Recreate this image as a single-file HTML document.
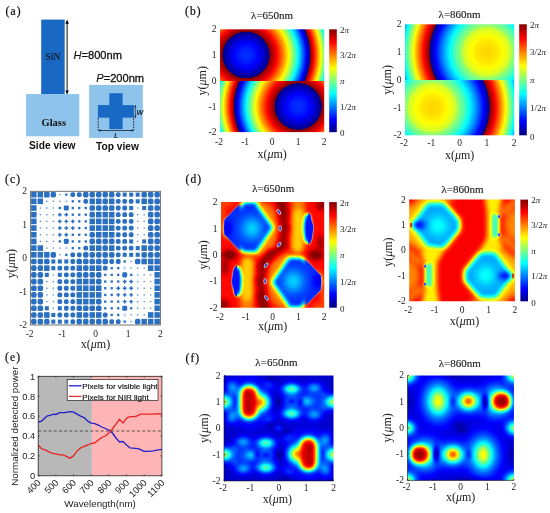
<!DOCTYPE html><html><head><meta charset="utf-8"><title>figure</title><style>html,body{margin:0;padding:0;background:#fff;overflow:hidden}svg{display:block}</style></head><body><svg width="550" height="513" viewBox="0 0 550 513"><defs><radialGradient id="gw"><stop offset="0" stop-color="#fff" stop-opacity="1.000"/><stop offset="0.1" stop-color="#fff" stop-opacity="0.956"/><stop offset="0.2" stop-color="#fff" stop-opacity="0.833"/><stop offset="0.3" stop-color="#fff" stop-opacity="0.663"/><stop offset="0.4" stop-color="#fff" stop-opacity="0.481"/><stop offset="0.5" stop-color="#fff" stop-opacity="0.317"/><stop offset="0.6" stop-color="#fff" stop-opacity="0.189"/><stop offset="0.7" stop-color="#fff" stop-opacity="0.100"/><stop offset="0.8" stop-color="#fff" stop-opacity="0.046"/><stop offset="0.9" stop-color="#fff" stop-opacity="0.015"/><stop offset="1" stop-color="#fff" stop-opacity="0.000"/></radialGradient><radialGradient id="gk"><stop offset="0" stop-color="#000" stop-opacity="1.000"/><stop offset="0.1" stop-color="#000" stop-opacity="0.956"/><stop offset="0.2" stop-color="#000" stop-opacity="0.833"/><stop offset="0.3" stop-color="#000" stop-opacity="0.663"/><stop offset="0.4" stop-color="#000" stop-opacity="0.481"/><stop offset="0.5" stop-color="#000" stop-opacity="0.317"/><stop offset="0.6" stop-color="#000" stop-opacity="0.189"/><stop offset="0.7" stop-color="#000" stop-opacity="0.100"/><stop offset="0.8" stop-color="#000" stop-opacity="0.046"/><stop offset="0.9" stop-color="#000" stop-opacity="0.015"/><stop offset="1" stop-color="#000" stop-opacity="0.000"/></radialGradient><radialGradient id="fw"><stop offset="0" stop-color="#fff" stop-opacity="1.000"/><stop offset="0.1" stop-color="#fff" stop-opacity="0.999"/><stop offset="0.2" stop-color="#fff" stop-opacity="0.997"/><stop offset="0.3" stop-color="#fff" stop-opacity="0.989"/><stop offset="0.4" stop-color="#fff" stop-opacity="0.956"/><stop offset="0.5" stop-color="#fff" stop-opacity="0.843"/><stop offset="0.6" stop-color="#fff" stop-opacity="0.570"/><stop offset="0.7" stop-color="#fff" stop-opacity="0.246"/><stop offset="0.8" stop-color="#fff" stop-opacity="0.074"/><stop offset="0.9" stop-color="#fff" stop-opacity="0.019"/><stop offset="1" stop-color="#fff" stop-opacity="0.000"/></radialGradient><radialGradient id="fk"><stop offset="0" stop-color="#000" stop-opacity="1.000"/><stop offset="0.1" stop-color="#000" stop-opacity="0.999"/><stop offset="0.2" stop-color="#000" stop-opacity="0.997"/><stop offset="0.3" stop-color="#000" stop-opacity="0.989"/><stop offset="0.4" stop-color="#000" stop-opacity="0.956"/><stop offset="0.5" stop-color="#000" stop-opacity="0.843"/><stop offset="0.6" stop-color="#000" stop-opacity="0.570"/><stop offset="0.7" stop-color="#000" stop-opacity="0.246"/><stop offset="0.8" stop-color="#000" stop-opacity="0.074"/><stop offset="0.9" stop-color="#000" stop-opacity="0.019"/><stop offset="1" stop-color="#000" stop-opacity="0.000"/></radialGradient><linearGradient id="cb" x1="0" y1="1" x2="0" y2="0"><stop offset="0.0000" stop-color="#000080"/><stop offset="0.0312" stop-color="#00009f"/><stop offset="0.0625" stop-color="#0000bf"/><stop offset="0.0938" stop-color="#0000df"/><stop offset="0.1250" stop-color="#0000ff"/><stop offset="0.1562" stop-color="#0020ff"/><stop offset="0.1875" stop-color="#0040ff"/><stop offset="0.2188" stop-color="#0060ff"/><stop offset="0.2500" stop-color="#0080ff"/><stop offset="0.2812" stop-color="#009fff"/><stop offset="0.3125" stop-color="#00bfff"/><stop offset="0.3438" stop-color="#00dfff"/><stop offset="0.3750" stop-color="#00ffff"/><stop offset="0.4062" stop-color="#20ffdf"/><stop offset="0.4375" stop-color="#40ffbf"/><stop offset="0.4688" stop-color="#60ff9f"/><stop offset="0.5000" stop-color="#80ff80"/><stop offset="0.5312" stop-color="#9fff60"/><stop offset="0.5625" stop-color="#bfff40"/><stop offset="0.5938" stop-color="#dfff20"/><stop offset="0.6250" stop-color="#ffff00"/><stop offset="0.6562" stop-color="#ffdf00"/><stop offset="0.6875" stop-color="#ffbf00"/><stop offset="0.7188" stop-color="#ff9f00"/><stop offset="0.7500" stop-color="#ff8000"/><stop offset="0.7812" stop-color="#ff6000"/><stop offset="0.8125" stop-color="#ff4000"/><stop offset="0.8438" stop-color="#ff2000"/><stop offset="0.8750" stop-color="#ff0000"/><stop offset="0.9062" stop-color="#df0000"/><stop offset="0.9375" stop-color="#bf0000"/><stop offset="0.9688" stop-color="#9f0000"/><stop offset="1.0000" stop-color="#800000"/></linearGradient><radialGradient id="ra0" gradientUnits="userSpaceOnUse" cx="0" cy="0" r="3.25" gradientTransform="translate(246.05 55.02) scale(26.0500 25.7250)"><stop offset="0.0000" stop-color="#002dff"/><stop offset="0.0063" stop-color="#002dff"/><stop offset="0.0125" stop-color="#002dff"/><stop offset="0.0187" stop-color="#002cff"/><stop offset="0.0250" stop-color="#002bff"/><stop offset="0.0312" stop-color="#002bff"/><stop offset="0.0375" stop-color="#002aff"/><stop offset="0.0437" stop-color="#0028ff"/><stop offset="0.0500" stop-color="#0027ff"/><stop offset="0.0563" stop-color="#0026ff"/><stop offset="0.0625" stop-color="#0024ff"/><stop offset="0.0688" stop-color="#0022ff"/><stop offset="0.0750" stop-color="#0020ff"/><stop offset="0.0813" stop-color="#001eff"/><stop offset="0.0875" stop-color="#001bff"/><stop offset="0.0938" stop-color="#0019ff"/><stop offset="0.1000" stop-color="#0016ff"/><stop offset="0.1062" stop-color="#0013ff"/><stop offset="0.1125" stop-color="#0010ff"/><stop offset="0.1187" stop-color="#000dff"/><stop offset="0.1250" stop-color="#0009ff"/><stop offset="0.1313" stop-color="#0005ff"/><stop offset="0.1375" stop-color="#0002ff"/><stop offset="0.1437" stop-color="#0000fd"/><stop offset="0.1500" stop-color="#0000f8"/><stop offset="0.1562" stop-color="#0000f4"/><stop offset="0.1625" stop-color="#0000ef"/><stop offset="0.1688" stop-color="#0000eb"/><stop offset="0.1750" stop-color="#0000e6"/><stop offset="0.1812" stop-color="#0000e1"/><stop offset="0.1875" stop-color="#0000dc"/><stop offset="0.1938" stop-color="#0000d6"/><stop offset="0.2000" stop-color="#0000d1"/><stop offset="0.2062" stop-color="#0000cb"/><stop offset="0.2125" stop-color="#0000c5"/><stop offset="0.2188" stop-color="#0000bf"/><stop offset="0.2250" stop-color="#0000b9"/><stop offset="0.2313" stop-color="#0000b2"/><stop offset="0.2375" stop-color="#0000ab"/><stop offset="0.2437" stop-color="#0000a5"/><stop offset="0.2500" stop-color="#00009e"/><stop offset="0.2562" stop-color="#000097"/><stop offset="0.2625" stop-color="#00008f"/><stop offset="0.2687" stop-color="#000088"/><stop offset="0.2750" stop-color="#000080"/><stop offset="0.2812" stop-color="#860000"/><stop offset="0.2875" stop-color="#8e0000"/><stop offset="0.2938" stop-color="#960000"/><stop offset="0.3000" stop-color="#9f0000"/><stop offset="0.3063" stop-color="#a70000"/><stop offset="0.3125" stop-color="#b00000"/><stop offset="0.3187" stop-color="#b80000"/><stop offset="0.3250" stop-color="#c10000"/><stop offset="0.3312" stop-color="#ca0000"/><stop offset="0.3375" stop-color="#d40000"/><stop offset="0.3438" stop-color="#dd0000"/><stop offset="0.3500" stop-color="#e60000"/><stop offset="0.3563" stop-color="#f00000"/><stop offset="0.3625" stop-color="#fa0000"/><stop offset="0.3688" stop-color="#ff0500"/><stop offset="0.3750" stop-color="#ff0f00"/><stop offset="0.3812" stop-color="#ff1900"/><stop offset="0.3875" stop-color="#ff2400"/><stop offset="0.3937" stop-color="#ff2e00"/><stop offset="0.4000" stop-color="#ff3900"/><stop offset="0.4062" stop-color="#ff4400"/><stop offset="0.4125" stop-color="#ff4f00"/><stop offset="0.4188" stop-color="#ff5a00"/><stop offset="0.4250" stop-color="#ff6600"/><stop offset="0.4313" stop-color="#ff7100"/><stop offset="0.4375" stop-color="#ff7d00"/><stop offset="0.4437" stop-color="#ff8900"/><stop offset="0.4500" stop-color="#ff9500"/><stop offset="0.4562" stop-color="#ffa100"/><stop offset="0.4625" stop-color="#ffad00"/><stop offset="0.4688" stop-color="#ffb900"/><stop offset="0.4750" stop-color="#ffc600"/><stop offset="0.4813" stop-color="#ffd200"/><stop offset="0.4875" stop-color="#ffdf00"/><stop offset="0.4938" stop-color="#ffec00"/><stop offset="0.5000" stop-color="#fff900"/><stop offset="0.5062" stop-color="#f8ff07"/><stop offset="0.5125" stop-color="#ebff14"/><stop offset="0.5188" stop-color="#ddff22"/><stop offset="0.5250" stop-color="#cfff30"/><stop offset="0.5312" stop-color="#c2ff3d"/><stop offset="0.5375" stop-color="#b4ff4b"/><stop offset="0.5437" stop-color="#a6ff59"/><stop offset="0.5500" stop-color="#98ff67"/><stop offset="0.5563" stop-color="#8aff75"/><stop offset="0.5625" stop-color="#7bff84"/><stop offset="0.5687" stop-color="#6dff92"/><stop offset="0.5750" stop-color="#5effa1"/><stop offset="0.5813" stop-color="#4fffb0"/><stop offset="0.5875" stop-color="#40ffbf"/><stop offset="0.5938" stop-color="#31ffce"/><stop offset="0.6000" stop-color="#22ffdd"/><stop offset="0.6062" stop-color="#13ffec"/><stop offset="0.6125" stop-color="#04fffb"/><stop offset="0.6188" stop-color="#00f3ff"/><stop offset="0.6250" stop-color="#00e4ff"/><stop offset="0.6312" stop-color="#00d4ff"/><stop offset="0.6375" stop-color="#00c4ff"/><stop offset="0.6438" stop-color="#00b4ff"/><stop offset="0.6500" stop-color="#00a4ff"/><stop offset="0.6562" stop-color="#0094ff"/><stop offset="0.6625" stop-color="#0084ff"/><stop offset="0.6687" stop-color="#0073ff"/><stop offset="0.6750" stop-color="#0063ff"/><stop offset="0.6813" stop-color="#0052ff"/><stop offset="0.6875" stop-color="#0041ff"/><stop offset="0.6937" stop-color="#0030ff"/><stop offset="0.7000" stop-color="#001fff"/><stop offset="0.7063" stop-color="#000eff"/><stop offset="0.7125" stop-color="#0000fc"/><stop offset="0.7188" stop-color="#0000eb"/><stop offset="0.7250" stop-color="#0000d9"/><stop offset="0.7312" stop-color="#0000c8"/><stop offset="0.7375" stop-color="#0000b6"/><stop offset="0.7438" stop-color="#0000a5"/><stop offset="0.7500" stop-color="#000093"/><stop offset="0.7562" stop-color="#000081"/><stop offset="0.7625" stop-color="#900000"/><stop offset="0.7688" stop-color="#a20000"/><stop offset="0.7750" stop-color="#b50000"/><stop offset="0.7812" stop-color="#c70000"/><stop offset="0.7875" stop-color="#d90000"/><stop offset="0.7937" stop-color="#ec0000"/><stop offset="0.8000" stop-color="#fe0000"/><stop offset="0.8063" stop-color="#ff1200"/><stop offset="0.8125" stop-color="#ff2500"/><stop offset="0.8187" stop-color="#ff3800"/><stop offset="0.8250" stop-color="#ff4b00"/><stop offset="0.8313" stop-color="#ff5e00"/><stop offset="0.8375" stop-color="#ff7100"/><stop offset="0.8438" stop-color="#ff8400"/><stop offset="0.8500" stop-color="#ff9800"/><stop offset="0.8562" stop-color="#ffab00"/><stop offset="0.8625" stop-color="#ffbf00"/><stop offset="0.8688" stop-color="#ffd200"/><stop offset="0.8750" stop-color="#ffe600"/><stop offset="0.8812" stop-color="#fffa00"/><stop offset="0.8875" stop-color="#f0ff0f"/><stop offset="0.8938" stop-color="#dcff23"/><stop offset="0.9000" stop-color="#c8ff37"/><stop offset="0.9062" stop-color="#b4ff4b"/><stop offset="0.9125" stop-color="#a0ff5f"/><stop offset="0.9187" stop-color="#8cff73"/><stop offset="0.9250" stop-color="#77ff88"/><stop offset="0.9313" stop-color="#63ff9c"/><stop offset="0.9375" stop-color="#4effb1"/><stop offset="0.9437" stop-color="#3affc5"/><stop offset="0.9500" stop-color="#25ffda"/><stop offset="0.9563" stop-color="#10ffef"/><stop offset="0.9625" stop-color="#00faff"/><stop offset="0.9688" stop-color="#00e5ff"/><stop offset="0.9750" stop-color="#00d0ff"/><stop offset="0.9812" stop-color="#00bbff"/><stop offset="0.9875" stop-color="#00a6ff"/><stop offset="0.9938" stop-color="#0091ff"/><stop offset="1.0000" stop-color="#007bff"/></radialGradient><radialGradient id="ra1" gradientUnits="userSpaceOnUse" cx="0" cy="0" r="3.25" gradientTransform="translate(298.15 106.47) scale(26.0500 25.7250)"><stop offset="0.0000" stop-color="#002dff"/><stop offset="0.0063" stop-color="#002dff"/><stop offset="0.0125" stop-color="#002dff"/><stop offset="0.0187" stop-color="#002cff"/><stop offset="0.0250" stop-color="#002bff"/><stop offset="0.0312" stop-color="#002bff"/><stop offset="0.0375" stop-color="#002aff"/><stop offset="0.0437" stop-color="#0028ff"/><stop offset="0.0500" stop-color="#0027ff"/><stop offset="0.0563" stop-color="#0026ff"/><stop offset="0.0625" stop-color="#0024ff"/><stop offset="0.0688" stop-color="#0022ff"/><stop offset="0.0750" stop-color="#0020ff"/><stop offset="0.0813" stop-color="#001eff"/><stop offset="0.0875" stop-color="#001bff"/><stop offset="0.0938" stop-color="#0019ff"/><stop offset="0.1000" stop-color="#0016ff"/><stop offset="0.1062" stop-color="#0013ff"/><stop offset="0.1125" stop-color="#0010ff"/><stop offset="0.1187" stop-color="#000dff"/><stop offset="0.1250" stop-color="#0009ff"/><stop offset="0.1313" stop-color="#0005ff"/><stop offset="0.1375" stop-color="#0002ff"/><stop offset="0.1437" stop-color="#0000fd"/><stop offset="0.1500" stop-color="#0000f8"/><stop offset="0.1562" stop-color="#0000f4"/><stop offset="0.1625" stop-color="#0000ef"/><stop offset="0.1688" stop-color="#0000eb"/><stop offset="0.1750" stop-color="#0000e6"/><stop offset="0.1812" stop-color="#0000e1"/><stop offset="0.1875" stop-color="#0000dc"/><stop offset="0.1938" stop-color="#0000d6"/><stop offset="0.2000" stop-color="#0000d1"/><stop offset="0.2062" stop-color="#0000cb"/><stop offset="0.2125" stop-color="#0000c5"/><stop offset="0.2188" stop-color="#0000bf"/><stop offset="0.2250" stop-color="#0000b9"/><stop offset="0.2313" stop-color="#0000b2"/><stop offset="0.2375" stop-color="#0000ab"/><stop offset="0.2437" stop-color="#0000a5"/><stop offset="0.2500" stop-color="#00009e"/><stop offset="0.2562" stop-color="#000097"/><stop offset="0.2625" stop-color="#00008f"/><stop offset="0.2687" stop-color="#000088"/><stop offset="0.2750" stop-color="#000080"/><stop offset="0.2812" stop-color="#860000"/><stop offset="0.2875" stop-color="#8e0000"/><stop offset="0.2938" stop-color="#960000"/><stop offset="0.3000" stop-color="#9f0000"/><stop offset="0.3063" stop-color="#a70000"/><stop offset="0.3125" stop-color="#b00000"/><stop offset="0.3187" stop-color="#b80000"/><stop offset="0.3250" stop-color="#c10000"/><stop offset="0.3312" stop-color="#ca0000"/><stop offset="0.3375" stop-color="#d40000"/><stop offset="0.3438" stop-color="#dd0000"/><stop offset="0.3500" stop-color="#e60000"/><stop offset="0.3563" stop-color="#f00000"/><stop offset="0.3625" stop-color="#fa0000"/><stop offset="0.3688" stop-color="#ff0500"/><stop offset="0.3750" stop-color="#ff0f00"/><stop offset="0.3812" stop-color="#ff1900"/><stop offset="0.3875" stop-color="#ff2400"/><stop offset="0.3937" stop-color="#ff2e00"/><stop offset="0.4000" stop-color="#ff3900"/><stop offset="0.4062" stop-color="#ff4400"/><stop offset="0.4125" stop-color="#ff4f00"/><stop offset="0.4188" stop-color="#ff5a00"/><stop offset="0.4250" stop-color="#ff6600"/><stop offset="0.4313" stop-color="#ff7100"/><stop offset="0.4375" stop-color="#ff7d00"/><stop offset="0.4437" stop-color="#ff8900"/><stop offset="0.4500" stop-color="#ff9500"/><stop offset="0.4562" stop-color="#ffa100"/><stop offset="0.4625" stop-color="#ffad00"/><stop offset="0.4688" stop-color="#ffb900"/><stop offset="0.4750" stop-color="#ffc600"/><stop offset="0.4813" stop-color="#ffd200"/><stop offset="0.4875" stop-color="#ffdf00"/><stop offset="0.4938" stop-color="#ffec00"/><stop offset="0.5000" stop-color="#fff900"/><stop offset="0.5062" stop-color="#f8ff07"/><stop offset="0.5125" stop-color="#ebff14"/><stop offset="0.5188" stop-color="#ddff22"/><stop offset="0.5250" stop-color="#cfff30"/><stop offset="0.5312" stop-color="#c2ff3d"/><stop offset="0.5375" stop-color="#b4ff4b"/><stop offset="0.5437" stop-color="#a6ff59"/><stop offset="0.5500" stop-color="#98ff67"/><stop offset="0.5563" stop-color="#8aff75"/><stop offset="0.5625" stop-color="#7bff84"/><stop offset="0.5687" stop-color="#6dff92"/><stop offset="0.5750" stop-color="#5effa1"/><stop offset="0.5813" stop-color="#4fffb0"/><stop offset="0.5875" stop-color="#40ffbf"/><stop offset="0.5938" stop-color="#31ffce"/><stop offset="0.6000" stop-color="#22ffdd"/><stop offset="0.6062" stop-color="#13ffec"/><stop offset="0.6125" stop-color="#04fffb"/><stop offset="0.6188" stop-color="#00f3ff"/><stop offset="0.6250" stop-color="#00e4ff"/><stop offset="0.6312" stop-color="#00d4ff"/><stop offset="0.6375" stop-color="#00c4ff"/><stop offset="0.6438" stop-color="#00b4ff"/><stop offset="0.6500" stop-color="#00a4ff"/><stop offset="0.6562" stop-color="#0094ff"/><stop offset="0.6625" stop-color="#0084ff"/><stop offset="0.6687" stop-color="#0073ff"/><stop offset="0.6750" stop-color="#0063ff"/><stop offset="0.6813" stop-color="#0052ff"/><stop offset="0.6875" stop-color="#0041ff"/><stop offset="0.6937" stop-color="#0030ff"/><stop offset="0.7000" stop-color="#001fff"/><stop offset="0.7063" stop-color="#000eff"/><stop offset="0.7125" stop-color="#0000fc"/><stop offset="0.7188" stop-color="#0000eb"/><stop offset="0.7250" stop-color="#0000d9"/><stop offset="0.7312" stop-color="#0000c8"/><stop offset="0.7375" stop-color="#0000b6"/><stop offset="0.7438" stop-color="#0000a5"/><stop offset="0.7500" stop-color="#000093"/><stop offset="0.7562" stop-color="#000081"/><stop offset="0.7625" stop-color="#900000"/><stop offset="0.7688" stop-color="#a20000"/><stop offset="0.7750" stop-color="#b50000"/><stop offset="0.7812" stop-color="#c70000"/><stop offset="0.7875" stop-color="#d90000"/><stop offset="0.7937" stop-color="#ec0000"/><stop offset="0.8000" stop-color="#fe0000"/><stop offset="0.8063" stop-color="#ff1200"/><stop offset="0.8125" stop-color="#ff2500"/><stop offset="0.8187" stop-color="#ff3800"/><stop offset="0.8250" stop-color="#ff4b00"/><stop offset="0.8313" stop-color="#ff5e00"/><stop offset="0.8375" stop-color="#ff7100"/><stop offset="0.8438" stop-color="#ff8400"/><stop offset="0.8500" stop-color="#ff9800"/><stop offset="0.8562" stop-color="#ffab00"/><stop offset="0.8625" stop-color="#ffbf00"/><stop offset="0.8688" stop-color="#ffd200"/><stop offset="0.8750" stop-color="#ffe600"/><stop offset="0.8812" stop-color="#fffa00"/><stop offset="0.8875" stop-color="#f0ff0f"/><stop offset="0.8938" stop-color="#dcff23"/><stop offset="0.9000" stop-color="#c8ff37"/><stop offset="0.9062" stop-color="#b4ff4b"/><stop offset="0.9125" stop-color="#a0ff5f"/><stop offset="0.9187" stop-color="#8cff73"/><stop offset="0.9250" stop-color="#77ff88"/><stop offset="0.9313" stop-color="#63ff9c"/><stop offset="0.9375" stop-color="#4effb1"/><stop offset="0.9437" stop-color="#3affc5"/><stop offset="0.9500" stop-color="#25ffda"/><stop offset="0.9563" stop-color="#10ffef"/><stop offset="0.9625" stop-color="#00faff"/><stop offset="0.9688" stop-color="#00e5ff"/><stop offset="0.9750" stop-color="#00d0ff"/><stop offset="0.9812" stop-color="#00bbff"/><stop offset="0.9875" stop-color="#00a6ff"/><stop offset="0.9938" stop-color="#0091ff"/><stop offset="1.0000" stop-color="#007bff"/></radialGradient><radialGradient id="rb0" gradientUnits="userSpaceOnUse" cx="0" cy="0" r="3.25" gradientTransform="translate(486.90 52.05) scale(27.3000 27.7500)"><stop offset="0.0000" stop-color="#ffd600"/><stop offset="0.0063" stop-color="#ffd600"/><stop offset="0.0125" stop-color="#ffd600"/><stop offset="0.0187" stop-color="#ffd700"/><stop offset="0.0250" stop-color="#ffd700"/><stop offset="0.0312" stop-color="#ffd700"/><stop offset="0.0375" stop-color="#ffd800"/><stop offset="0.0437" stop-color="#ffd900"/><stop offset="0.0500" stop-color="#ffd900"/><stop offset="0.0563" stop-color="#ffda00"/><stop offset="0.0625" stop-color="#ffdb00"/><stop offset="0.0688" stop-color="#ffdc00"/><stop offset="0.0750" stop-color="#ffdd00"/><stop offset="0.0813" stop-color="#ffdf00"/><stop offset="0.0875" stop-color="#ffe000"/><stop offset="0.0938" stop-color="#ffe100"/><stop offset="0.1000" stop-color="#ffe300"/><stop offset="0.1062" stop-color="#ffe500"/><stop offset="0.1125" stop-color="#ffe600"/><stop offset="0.1187" stop-color="#ffe800"/><stop offset="0.1250" stop-color="#ffea00"/><stop offset="0.1313" stop-color="#ffec00"/><stop offset="0.1375" stop-color="#ffee00"/><stop offset="0.1437" stop-color="#fff100"/><stop offset="0.1500" stop-color="#fff300"/><stop offset="0.1562" stop-color="#fff500"/><stop offset="0.1625" stop-color="#fff800"/><stop offset="0.1688" stop-color="#fffb00"/><stop offset="0.1750" stop-color="#fffd00"/><stop offset="0.1812" stop-color="#feff01"/><stop offset="0.1875" stop-color="#fbff04"/><stop offset="0.1938" stop-color="#f8ff07"/><stop offset="0.2000" stop-color="#f5ff0a"/><stop offset="0.2062" stop-color="#f1ff0e"/><stop offset="0.2125" stop-color="#eeff11"/><stop offset="0.2188" stop-color="#ebff14"/><stop offset="0.2250" stop-color="#e7ff18"/><stop offset="0.2313" stop-color="#e4ff1b"/><stop offset="0.2375" stop-color="#e0ff1f"/><stop offset="0.2437" stop-color="#dcff23"/><stop offset="0.2500" stop-color="#d8ff27"/><stop offset="0.2562" stop-color="#d4ff2b"/><stop offset="0.2625" stop-color="#d0ff2f"/><stop offset="0.2687" stop-color="#ccff33"/><stop offset="0.2750" stop-color="#bbff44"/><stop offset="0.2812" stop-color="#a0ff5f"/><stop offset="0.2875" stop-color="#9aff65"/><stop offset="0.2938" stop-color="#94ff6b"/><stop offset="0.3000" stop-color="#8eff71"/><stop offset="0.3063" stop-color="#88ff77"/><stop offset="0.3125" stop-color="#81ff7e"/><stop offset="0.3187" stop-color="#7bff84"/><stop offset="0.3250" stop-color="#74ff8b"/><stop offset="0.3312" stop-color="#6dff92"/><stop offset="0.3375" stop-color="#66ff99"/><stop offset="0.3438" stop-color="#5fffa0"/><stop offset="0.3500" stop-color="#58ffa7"/><stop offset="0.3563" stop-color="#50ffaf"/><stop offset="0.3625" stop-color="#49ffb6"/><stop offset="0.3688" stop-color="#41ffbe"/><stop offset="0.3750" stop-color="#3affc5"/><stop offset="0.3812" stop-color="#32ffcd"/><stop offset="0.3875" stop-color="#2affd5"/><stop offset="0.3937" stop-color="#22ffdd"/><stop offset="0.4000" stop-color="#1affe5"/><stop offset="0.4062" stop-color="#12ffed"/><stop offset="0.4125" stop-color="#09fff6"/><stop offset="0.4188" stop-color="#01fffe"/><stop offset="0.4250" stop-color="#00f7ff"/><stop offset="0.4313" stop-color="#00efff"/><stop offset="0.4375" stop-color="#00e6ff"/><stop offset="0.4437" stop-color="#00ddff"/><stop offset="0.4500" stop-color="#00d4ff"/><stop offset="0.4562" stop-color="#00cbff"/><stop offset="0.4625" stop-color="#00c2ff"/><stop offset="0.4688" stop-color="#00b8ff"/><stop offset="0.4750" stop-color="#00afff"/><stop offset="0.4813" stop-color="#00a5ff"/><stop offset="0.4875" stop-color="#009cff"/><stop offset="0.4938" stop-color="#0092ff"/><stop offset="0.5000" stop-color="#0088ff"/><stop offset="0.5062" stop-color="#007eff"/><stop offset="0.5125" stop-color="#0074ff"/><stop offset="0.5188" stop-color="#006aff"/><stop offset="0.5250" stop-color="#005fff"/><stop offset="0.5312" stop-color="#0055ff"/><stop offset="0.5375" stop-color="#004bff"/><stop offset="0.5437" stop-color="#0040ff"/><stop offset="0.5500" stop-color="#0035ff"/><stop offset="0.5563" stop-color="#002bff"/><stop offset="0.5625" stop-color="#0020ff"/><stop offset="0.5687" stop-color="#0015ff"/><stop offset="0.5750" stop-color="#000aff"/><stop offset="0.5813" stop-color="#0000fe"/><stop offset="0.5875" stop-color="#0000f2"/><stop offset="0.5938" stop-color="#0000e7"/><stop offset="0.6000" stop-color="#0000dc"/><stop offset="0.6062" stop-color="#0000d0"/><stop offset="0.6125" stop-color="#0000c5"/><stop offset="0.6188" stop-color="#0000b9"/><stop offset="0.6250" stop-color="#0000ad"/><stop offset="0.6312" stop-color="#0000a1"/><stop offset="0.6375" stop-color="#000095"/><stop offset="0.6438" stop-color="#000089"/><stop offset="0.6500" stop-color="#820000"/><stop offset="0.6562" stop-color="#8e0000"/><stop offset="0.6625" stop-color="#9b0000"/><stop offset="0.6687" stop-color="#a70000"/><stop offset="0.6750" stop-color="#b40000"/><stop offset="0.6813" stop-color="#c00000"/><stop offset="0.6875" stop-color="#cd0000"/><stop offset="0.6937" stop-color="#d90000"/><stop offset="0.7000" stop-color="#e60000"/><stop offset="0.7063" stop-color="#f30000"/><stop offset="0.7125" stop-color="#ff0100"/><stop offset="0.7188" stop-color="#ff0e00"/><stop offset="0.7250" stop-color="#ff1b00"/><stop offset="0.7312" stop-color="#ff2900"/><stop offset="0.7375" stop-color="#ff3600"/><stop offset="0.7438" stop-color="#ff4300"/><stop offset="0.7500" stop-color="#ff5100"/><stop offset="0.7562" stop-color="#ff5e00"/><stop offset="0.7625" stop-color="#ff6c00"/><stop offset="0.7688" stop-color="#ff7a00"/><stop offset="0.7750" stop-color="#ff8700"/><stop offset="0.7812" stop-color="#ff9500"/><stop offset="0.7875" stop-color="#ffa300"/><stop offset="0.7937" stop-color="#ffb100"/><stop offset="0.8000" stop-color="#ffbf00"/><stop offset="0.8063" stop-color="#ffcd00"/><stop offset="0.8125" stop-color="#ffdc00"/><stop offset="0.8187" stop-color="#ffea00"/><stop offset="0.8250" stop-color="#fff800"/><stop offset="0.8313" stop-color="#f7ff08"/><stop offset="0.8375" stop-color="#e9ff16"/><stop offset="0.8438" stop-color="#daff25"/><stop offset="0.8500" stop-color="#ccff33"/><stop offset="0.8562" stop-color="#bdff42"/><stop offset="0.8625" stop-color="#aeff51"/><stop offset="0.8688" stop-color="#9fff60"/><stop offset="0.8750" stop-color="#90ff6f"/><stop offset="0.8812" stop-color="#81ff7e"/><stop offset="0.8875" stop-color="#72ff8d"/><stop offset="0.8938" stop-color="#63ff9c"/><stop offset="0.9000" stop-color="#54ffab"/><stop offset="0.9062" stop-color="#45ffba"/><stop offset="0.9125" stop-color="#36ffc9"/><stop offset="0.9187" stop-color="#26ffd9"/><stop offset="0.9250" stop-color="#17ffe8"/><stop offset="0.9313" stop-color="#07fff8"/><stop offset="0.9375" stop-color="#00f7ff"/><stop offset="0.9437" stop-color="#00e7ff"/><stop offset="0.9500" stop-color="#00d8ff"/><stop offset="0.9563" stop-color="#00c8ff"/><stop offset="0.9625" stop-color="#00b8ff"/><stop offset="0.9688" stop-color="#00a8ff"/><stop offset="0.9750" stop-color="#0098ff"/><stop offset="0.9812" stop-color="#0088ff"/><stop offset="0.9875" stop-color="#0078ff"/><stop offset="0.9938" stop-color="#0068ff"/><stop offset="1.0000" stop-color="#0058ff"/></radialGradient><radialGradient id="rb1" gradientUnits="userSpaceOnUse" cx="0" cy="0" r="3.25" gradientTransform="translate(432.30 107.55) scale(27.3000 27.7500)"><stop offset="0.0000" stop-color="#ffd600"/><stop offset="0.0063" stop-color="#ffd600"/><stop offset="0.0125" stop-color="#ffd600"/><stop offset="0.0187" stop-color="#ffd700"/><stop offset="0.0250" stop-color="#ffd700"/><stop offset="0.0312" stop-color="#ffd700"/><stop offset="0.0375" stop-color="#ffd800"/><stop offset="0.0437" stop-color="#ffd900"/><stop offset="0.0500" stop-color="#ffd900"/><stop offset="0.0563" stop-color="#ffda00"/><stop offset="0.0625" stop-color="#ffdb00"/><stop offset="0.0688" stop-color="#ffdc00"/><stop offset="0.0750" stop-color="#ffdd00"/><stop offset="0.0813" stop-color="#ffdf00"/><stop offset="0.0875" stop-color="#ffe000"/><stop offset="0.0938" stop-color="#ffe100"/><stop offset="0.1000" stop-color="#ffe300"/><stop offset="0.1062" stop-color="#ffe500"/><stop offset="0.1125" stop-color="#ffe600"/><stop offset="0.1187" stop-color="#ffe800"/><stop offset="0.1250" stop-color="#ffea00"/><stop offset="0.1313" stop-color="#ffec00"/><stop offset="0.1375" stop-color="#ffee00"/><stop offset="0.1437" stop-color="#fff100"/><stop offset="0.1500" stop-color="#fff300"/><stop offset="0.1562" stop-color="#fff500"/><stop offset="0.1625" stop-color="#fff800"/><stop offset="0.1688" stop-color="#fffb00"/><stop offset="0.1750" stop-color="#fffd00"/><stop offset="0.1812" stop-color="#feff01"/><stop offset="0.1875" stop-color="#fbff04"/><stop offset="0.1938" stop-color="#f8ff07"/><stop offset="0.2000" stop-color="#f5ff0a"/><stop offset="0.2062" stop-color="#f1ff0e"/><stop offset="0.2125" stop-color="#eeff11"/><stop offset="0.2188" stop-color="#ebff14"/><stop offset="0.2250" stop-color="#e7ff18"/><stop offset="0.2313" stop-color="#e4ff1b"/><stop offset="0.2375" stop-color="#e0ff1f"/><stop offset="0.2437" stop-color="#dcff23"/><stop offset="0.2500" stop-color="#d8ff27"/><stop offset="0.2562" stop-color="#d4ff2b"/><stop offset="0.2625" stop-color="#d0ff2f"/><stop offset="0.2687" stop-color="#ccff33"/><stop offset="0.2750" stop-color="#bbff44"/><stop offset="0.2812" stop-color="#a0ff5f"/><stop offset="0.2875" stop-color="#9aff65"/><stop offset="0.2938" stop-color="#94ff6b"/><stop offset="0.3000" stop-color="#8eff71"/><stop offset="0.3063" stop-color="#88ff77"/><stop offset="0.3125" stop-color="#81ff7e"/><stop offset="0.3187" stop-color="#7bff84"/><stop offset="0.3250" stop-color="#74ff8b"/><stop offset="0.3312" stop-color="#6dff92"/><stop offset="0.3375" stop-color="#66ff99"/><stop offset="0.3438" stop-color="#5fffa0"/><stop offset="0.3500" stop-color="#58ffa7"/><stop offset="0.3563" stop-color="#50ffaf"/><stop offset="0.3625" stop-color="#49ffb6"/><stop offset="0.3688" stop-color="#41ffbe"/><stop offset="0.3750" stop-color="#3affc5"/><stop offset="0.3812" stop-color="#32ffcd"/><stop offset="0.3875" stop-color="#2affd5"/><stop offset="0.3937" stop-color="#22ffdd"/><stop offset="0.4000" stop-color="#1affe5"/><stop offset="0.4062" stop-color="#12ffed"/><stop offset="0.4125" stop-color="#09fff6"/><stop offset="0.4188" stop-color="#01fffe"/><stop offset="0.4250" stop-color="#00f7ff"/><stop offset="0.4313" stop-color="#00efff"/><stop offset="0.4375" stop-color="#00e6ff"/><stop offset="0.4437" stop-color="#00ddff"/><stop offset="0.4500" stop-color="#00d4ff"/><stop offset="0.4562" stop-color="#00cbff"/><stop offset="0.4625" stop-color="#00c2ff"/><stop offset="0.4688" stop-color="#00b8ff"/><stop offset="0.4750" stop-color="#00afff"/><stop offset="0.4813" stop-color="#00a5ff"/><stop offset="0.4875" stop-color="#009cff"/><stop offset="0.4938" stop-color="#0092ff"/><stop offset="0.5000" stop-color="#0088ff"/><stop offset="0.5062" stop-color="#007eff"/><stop offset="0.5125" stop-color="#0074ff"/><stop offset="0.5188" stop-color="#006aff"/><stop offset="0.5250" stop-color="#005fff"/><stop offset="0.5312" stop-color="#0055ff"/><stop offset="0.5375" stop-color="#004bff"/><stop offset="0.5437" stop-color="#0040ff"/><stop offset="0.5500" stop-color="#0035ff"/><stop offset="0.5563" stop-color="#002bff"/><stop offset="0.5625" stop-color="#0020ff"/><stop offset="0.5687" stop-color="#0015ff"/><stop offset="0.5750" stop-color="#000aff"/><stop offset="0.5813" stop-color="#0000fe"/><stop offset="0.5875" stop-color="#0000f2"/><stop offset="0.5938" stop-color="#0000e7"/><stop offset="0.6000" stop-color="#0000dc"/><stop offset="0.6062" stop-color="#0000d0"/><stop offset="0.6125" stop-color="#0000c5"/><stop offset="0.6188" stop-color="#0000b9"/><stop offset="0.6250" stop-color="#0000ad"/><stop offset="0.6312" stop-color="#0000a1"/><stop offset="0.6375" stop-color="#000095"/><stop offset="0.6438" stop-color="#000089"/><stop offset="0.6500" stop-color="#820000"/><stop offset="0.6562" stop-color="#8e0000"/><stop offset="0.6625" stop-color="#9b0000"/><stop offset="0.6687" stop-color="#a70000"/><stop offset="0.6750" stop-color="#b40000"/><stop offset="0.6813" stop-color="#c00000"/><stop offset="0.6875" stop-color="#cd0000"/><stop offset="0.6937" stop-color="#d90000"/><stop offset="0.7000" stop-color="#e60000"/><stop offset="0.7063" stop-color="#f30000"/><stop offset="0.7125" stop-color="#ff0100"/><stop offset="0.7188" stop-color="#ff0e00"/><stop offset="0.7250" stop-color="#ff1b00"/><stop offset="0.7312" stop-color="#ff2900"/><stop offset="0.7375" stop-color="#ff3600"/><stop offset="0.7438" stop-color="#ff4300"/><stop offset="0.7500" stop-color="#ff5100"/><stop offset="0.7562" stop-color="#ff5e00"/><stop offset="0.7625" stop-color="#ff6c00"/><stop offset="0.7688" stop-color="#ff7a00"/><stop offset="0.7750" stop-color="#ff8700"/><stop offset="0.7812" stop-color="#ff9500"/><stop offset="0.7875" stop-color="#ffa300"/><stop offset="0.7937" stop-color="#ffb100"/><stop offset="0.8000" stop-color="#ffbf00"/><stop offset="0.8063" stop-color="#ffcd00"/><stop offset="0.8125" stop-color="#ffdc00"/><stop offset="0.8187" stop-color="#ffea00"/><stop offset="0.8250" stop-color="#fff800"/><stop offset="0.8313" stop-color="#f7ff08"/><stop offset="0.8375" stop-color="#e9ff16"/><stop offset="0.8438" stop-color="#daff25"/><stop offset="0.8500" stop-color="#ccff33"/><stop offset="0.8562" stop-color="#bdff42"/><stop offset="0.8625" stop-color="#aeff51"/><stop offset="0.8688" stop-color="#9fff60"/><stop offset="0.8750" stop-color="#90ff6f"/><stop offset="0.8812" stop-color="#81ff7e"/><stop offset="0.8875" stop-color="#72ff8d"/><stop offset="0.8938" stop-color="#63ff9c"/><stop offset="0.9000" stop-color="#54ffab"/><stop offset="0.9062" stop-color="#45ffba"/><stop offset="0.9125" stop-color="#36ffc9"/><stop offset="0.9187" stop-color="#26ffd9"/><stop offset="0.9250" stop-color="#17ffe8"/><stop offset="0.9313" stop-color="#07fff8"/><stop offset="0.9375" stop-color="#00f7ff"/><stop offset="0.9437" stop-color="#00e7ff"/><stop offset="0.9500" stop-color="#00d8ff"/><stop offset="0.9563" stop-color="#00c8ff"/><stop offset="0.9625" stop-color="#00b8ff"/><stop offset="0.9688" stop-color="#00a8ff"/><stop offset="0.9750" stop-color="#0098ff"/><stop offset="0.9812" stop-color="#0088ff"/><stop offset="0.9875" stop-color="#0078ff"/><stop offset="0.9938" stop-color="#0068ff"/><stop offset="1.0000" stop-color="#0058ff"/></radialGradient><filter id="f1b2_2" filterUnits="userSpaceOnUse" x="208" y="359.6" width="141.5" height="137.3"><feGaussianBlur stdDeviation="2.2"/></filter><filter id="f1" filterUnits="userSpaceOnUse" x="208" y="359.6" width="141.5" height="137.3" color-interpolation-filters="sRGB"><feGaussianBlur stdDeviation="0.8"/><feComponentTransfer><feFuncR type="table" tableValues="0.000 0.000 0.000 0.000 0.000 0.000 0.000 0.000 0.000 0.000 0.000 0.000 0.000 0.000 0.000 0.000 0.000 0.000 0.000 0.000 0.000 0.000 0.000 0.000 0.000 0.062 0.125 0.188 0.250 0.312 0.375 0.438 0.500 0.562 0.625 0.688 0.750 0.812 0.875 0.938 1.000 1.000 1.000 1.000 1.000 1.000 1.000 1.000 1.000 1.000 1.000 1.000 1.000 1.000 1.000 1.000 1.000 0.938 0.875 0.812 0.750 0.688 0.625 0.562 0.500"/><feFuncG type="table" tableValues="0.000 0.000 0.000 0.000 0.000 0.000 0.000 0.000 0.000 0.062 0.125 0.188 0.250 0.312 0.375 0.438 0.500 0.562 0.625 0.688 0.750 0.812 0.875 0.938 1.000 1.000 1.000 1.000 1.000 1.000 1.000 1.000 1.000 1.000 1.000 1.000 1.000 1.000 1.000 1.000 1.000 0.938 0.875 0.812 0.750 0.688 0.625 0.562 0.500 0.438 0.375 0.312 0.250 0.188 0.125 0.062 0.000 0.000 0.000 0.000 0.000 0.000 0.000 0.000 0.000"/><feFuncB type="table" tableValues="0.500 0.562 0.625 0.688 0.750 0.812 0.875 0.938 1.000 1.000 1.000 1.000 1.000 1.000 1.000 1.000 1.000 1.000 1.000 1.000 1.000 1.000 1.000 1.000 1.000 0.938 0.875 0.812 0.750 0.688 0.625 0.562 0.500 0.438 0.375 0.312 0.250 0.188 0.125 0.062 0.000 0.000 0.000 0.000 0.000 0.000 0.000 0.000 0.000 0.000 0.000 0.000 0.000 0.000 0.000 0.000 0.000 0.000 0.000 0.000 0.000 0.000 0.000 0.000 0.000"/></feComponentTransfer></filter><clipPath id="f1c"><rect x="224.0" y="375.6" width="109.5" height="105.3"/></clipPath><filter id="f2b2_0" filterUnits="userSpaceOnUse" x="391.5" y="359.4" width="138.4" height="137"><feGaussianBlur stdDeviation="2"/></filter><filter id="f2" filterUnits="userSpaceOnUse" x="391.5" y="359.4" width="138.4" height="137" color-interpolation-filters="sRGB"><feGaussianBlur stdDeviation="0.8"/><feComponentTransfer><feFuncR type="table" tableValues="0.000 0.000 0.000 0.000 0.000 0.000 0.000 0.000 0.000 0.000 0.000 0.000 0.000 0.000 0.000 0.000 0.000 0.000 0.000 0.000 0.000 0.000 0.000 0.000 0.000 0.062 0.125 0.188 0.250 0.312 0.375 0.438 0.500 0.562 0.625 0.688 0.750 0.812 0.875 0.938 1.000 1.000 1.000 1.000 1.000 1.000 1.000 1.000 1.000 1.000 1.000 1.000 1.000 1.000 1.000 1.000 1.000 0.938 0.875 0.812 0.750 0.688 0.625 0.562 0.500"/><feFuncG type="table" tableValues="0.000 0.000 0.000 0.000 0.000 0.000 0.000 0.000 0.000 0.062 0.125 0.188 0.250 0.312 0.375 0.438 0.500 0.562 0.625 0.688 0.750 0.812 0.875 0.938 1.000 1.000 1.000 1.000 1.000 1.000 1.000 1.000 1.000 1.000 1.000 1.000 1.000 1.000 1.000 1.000 1.000 0.938 0.875 0.812 0.750 0.688 0.625 0.562 0.500 0.438 0.375 0.312 0.250 0.188 0.125 0.062 0.000 0.000 0.000 0.000 0.000 0.000 0.000 0.000 0.000"/><feFuncB type="table" tableValues="0.500 0.562 0.625 0.688 0.750 0.812 0.875 0.938 1.000 1.000 1.000 1.000 1.000 1.000 1.000 1.000 1.000 1.000 1.000 1.000 1.000 1.000 1.000 1.000 1.000 0.938 0.875 0.812 0.750 0.688 0.625 0.562 0.500 0.438 0.375 0.312 0.250 0.188 0.125 0.062 0.000 0.000 0.000 0.000 0.000 0.000 0.000 0.000 0.000 0.000 0.000 0.000 0.000 0.000 0.000 0.000 0.000 0.000 0.000 0.000 0.000 0.000 0.000 0.000 0.000"/></feComponentTransfer></filter><clipPath id="f2c"><rect x="407.5" y="375.4" width="106.4" height="105.0"/></clipPath><filter id="d1b2_5" filterUnits="userSpaceOnUse" x="205" y="186.1" width="135.2" height="137.6"><feGaussianBlur stdDeviation="2.5"/></filter><filter id="d1b2_0" filterUnits="userSpaceOnUse" x="205" y="186.1" width="135.2" height="137.6"><feGaussianBlur stdDeviation="2"/></filter><filter id="d1b3_5" filterUnits="userSpaceOnUse" x="205" y="186.1" width="135.2" height="137.6"><feGaussianBlur stdDeviation="3.5"/></filter><filter id="d1b2_3" filterUnits="userSpaceOnUse" x="205" y="186.1" width="135.2" height="137.6"><feGaussianBlur stdDeviation="2.3"/></filter><filter id="d1b1_6" filterUnits="userSpaceOnUse" x="205" y="186.1" width="135.2" height="137.6"><feGaussianBlur stdDeviation="1.6"/></filter><filter id="d1b" filterUnits="userSpaceOnUse" x="205" y="186.1" width="135.2" height="137.6" color-interpolation-filters="sRGB"><feGaussianBlur stdDeviation="1.5"/><feComponentTransfer><feFuncR type="table" tableValues="0.000 0.000 0.000 0.000 0.000 0.000 0.000 0.000 0.000 0.000 0.000 0.000 0.000 0.000 0.000 0.000 0.000 0.000 0.000 0.000 0.000 0.000 0.000 0.000 0.000 0.062 0.125 0.188 0.250 0.312 0.375 0.438 0.500 0.562 0.625 0.688 0.750 0.812 0.875 0.938 1.000 1.000 1.000 1.000 1.000 1.000 1.000 1.000 1.000 1.000 1.000 1.000 1.000 1.000 1.000 1.000 1.000 0.938 0.875 0.812 0.750 0.688 0.625 0.562 0.500"/><feFuncG type="table" tableValues="0.000 0.000 0.000 0.000 0.000 0.000 0.000 0.000 0.000 0.062 0.125 0.188 0.250 0.312 0.375 0.438 0.500 0.562 0.625 0.688 0.750 0.812 0.875 0.938 1.000 1.000 1.000 1.000 1.000 1.000 1.000 1.000 1.000 1.000 1.000 1.000 1.000 1.000 1.000 1.000 1.000 0.938 0.875 0.812 0.750 0.688 0.625 0.562 0.500 0.438 0.375 0.312 0.250 0.188 0.125 0.062 0.000 0.000 0.000 0.000 0.000 0.000 0.000 0.000 0.000"/><feFuncB type="table" tableValues="0.500 0.562 0.625 0.688 0.750 0.812 0.875 0.938 1.000 1.000 1.000 1.000 1.000 1.000 1.000 1.000 1.000 1.000 1.000 1.000 1.000 1.000 1.000 1.000 1.000 0.938 0.875 0.812 0.750 0.688 0.625 0.562 0.500 0.438 0.375 0.312 0.250 0.188 0.125 0.062 0.000 0.000 0.000 0.000 0.000 0.000 0.000 0.000 0.000 0.000 0.000 0.000 0.000 0.000 0.000 0.000 0.000 0.000 0.000 0.000 0.000 0.000 0.000 0.000 0.000"/></feComponentTransfer></filter><clipPath id="d1s"><path d="M223.58 228.50L224.10 220.05L238.54 204.74L259.70 204.74L259.70 250.94L239.06 250.15L224.10 234.31Z"/></clipPath><filter id="d1b2_2" filterUnits="userSpaceOnUse" x="205" y="186.1" width="135.2" height="137.6"><feGaussianBlur stdDeviation="2.2"/></filter><mask id="d1m" maskUnits="userSpaceOnUse" x="205" y="186.1" width="135.2" height="137.6"><g filter="url(#d1b2_2)"><path d="M205.52 186.26L236.48 186.26L239.06 203.42L243.70 211.34L248.09 219.26L249.38 228.50L248.09 237.74L243.70 244.34L239.06 252.26L236.48 270.74L205.52 270.74Z" fill="#ffffff" opacity="1"/></g></mask><filter id="d1" filterUnits="userSpaceOnUse" x="205" y="186.1" width="135.2" height="137.6" color-interpolation-filters="sRGB"><feGaussianBlur stdDeviation="0.6"/><feComponentTransfer><feFuncR type="table" tableValues="0.000 0.000 0.000 0.000 0.000 0.000 0.000 0.000 0.000 0.000 0.000 0.000 0.000 0.000 0.000 0.000 0.000 0.000 0.000 0.000 0.000 0.000 0.000 0.000 0.000 0.062 0.125 0.188 0.250 0.312 0.375 0.438 0.500 0.562 0.625 0.688 0.750 0.812 0.875 0.938 1.000 1.000 1.000 1.000 1.000 1.000 1.000 1.000 1.000 1.000 1.000 1.000 1.000 1.000 1.000 1.000 1.000 0.938 0.875 0.812 0.750 0.688 0.625 0.562 0.500"/><feFuncG type="table" tableValues="0.000 0.000 0.000 0.000 0.000 0.000 0.000 0.000 0.000 0.062 0.125 0.188 0.250 0.312 0.375 0.438 0.500 0.562 0.625 0.688 0.750 0.812 0.875 0.938 1.000 1.000 1.000 1.000 1.000 1.000 1.000 1.000 1.000 1.000 1.000 1.000 1.000 1.000 1.000 1.000 1.000 0.938 0.875 0.812 0.750 0.688 0.625 0.562 0.500 0.438 0.375 0.312 0.250 0.188 0.125 0.062 0.000 0.000 0.000 0.000 0.000 0.000 0.000 0.000 0.000"/><feFuncB type="table" tableValues="0.500 0.562 0.625 0.688 0.750 0.812 0.875 0.938 1.000 1.000 1.000 1.000 1.000 1.000 1.000 1.000 1.000 1.000 1.000 1.000 1.000 1.000 1.000 1.000 1.000 0.938 0.875 0.812 0.750 0.688 0.625 0.562 0.500 0.438 0.375 0.312 0.250 0.188 0.125 0.062 0.000 0.000 0.000 0.000 0.000 0.000 0.000 0.000 0.000 0.000 0.000 0.000 0.000 0.000 0.000 0.000 0.000 0.000 0.000 0.000 0.000 0.000 0.000 0.000 0.000"/></feComponentTransfer></filter><clipPath id="d1c"><rect x="221.0" y="202.1" width="103.2" height="105.6"/></clipPath><filter id="d2b3" filterUnits="userSpaceOnUse" x="393.2" y="183.6" width="137.7" height="133.7"><feGaussianBlur stdDeviation="3"/></filter><filter id="d2b2_4" filterUnits="userSpaceOnUse" x="393.2" y="183.6" width="137.7" height="133.7"><feGaussianBlur stdDeviation="2.4"/></filter><filter id="d2b1_6" filterUnits="userSpaceOnUse" x="393.2" y="183.6" width="137.7" height="133.7"><feGaussianBlur stdDeviation="1.6"/></filter><filter id="d2b3_5" filterUnits="userSpaceOnUse" x="393.2" y="183.6" width="137.7" height="133.7"><feGaussianBlur stdDeviation="3.5"/></filter><filter id="d2" filterUnits="userSpaceOnUse" x="393.2" y="183.6" width="137.7" height="133.7" color-interpolation-filters="sRGB"><feGaussianBlur stdDeviation="0.6"/><feComponentTransfer><feFuncR type="table" tableValues="0.000 0.000 0.000 0.000 0.000 0.000 0.000 0.000 0.000 0.000 0.000 0.000 0.000 0.000 0.000 0.000 0.000 0.000 0.000 0.000 0.000 0.000 0.000 0.000 0.000 0.062 0.125 0.188 0.250 0.312 0.375 0.438 0.500 0.562 0.625 0.688 0.750 0.812 0.875 0.938 1.000 1.000 1.000 1.000 1.000 1.000 1.000 1.000 1.000 1.000 1.000 1.000 1.000 1.000 1.000 1.000 1.000 0.938 0.875 0.812 0.750 0.688 0.625 0.562 0.500"/><feFuncG type="table" tableValues="0.000 0.000 0.000 0.000 0.000 0.000 0.000 0.000 0.000 0.062 0.125 0.188 0.250 0.312 0.375 0.438 0.500 0.562 0.625 0.688 0.750 0.812 0.875 0.938 1.000 1.000 1.000 1.000 1.000 1.000 1.000 1.000 1.000 1.000 1.000 1.000 1.000 1.000 1.000 1.000 1.000 0.938 0.875 0.812 0.750 0.688 0.625 0.562 0.500 0.438 0.375 0.312 0.250 0.188 0.125 0.062 0.000 0.000 0.000 0.000 0.000 0.000 0.000 0.000 0.000"/><feFuncB type="table" tableValues="0.500 0.562 0.625 0.688 0.750 0.812 0.875 0.938 1.000 1.000 1.000 1.000 1.000 1.000 1.000 1.000 1.000 1.000 1.000 1.000 1.000 1.000 1.000 1.000 1.000 0.938 0.875 0.812 0.750 0.688 0.625 0.562 0.500 0.438 0.375 0.312 0.250 0.188 0.125 0.062 0.000 0.000 0.000 0.000 0.000 0.000 0.000 0.000 0.000 0.000 0.000 0.000 0.000 0.000 0.000 0.000 0.000 0.000 0.000 0.000 0.000 0.000 0.000 0.000 0.000"/></feComponentTransfer></filter><clipPath id="d2c"><rect x="409.2" y="199.6" width="105.7" height="101.7"/></clipPath></defs><rect width="550" height="513" fill="#fff"/><text x="5.5" y="14.5" font-size="11.5" text-anchor="start" font-family="Liberation Serif,serif" letter-spacing="1.1" stroke="#111" stroke-width="0.22" fill="#111">(a)</text>
<text x="185.0" y="14.5" font-size="11.5" text-anchor="start" font-family="Liberation Serif,serif" letter-spacing="1.1" stroke="#111" stroke-width="0.22" fill="#111">(b)</text>
<text x="5.0" y="183.0" font-size="11.5" text-anchor="start" font-family="Liberation Serif,serif" letter-spacing="1.1" stroke="#111" stroke-width="0.22" fill="#111">(c)</text>
<text x="185.5" y="183.0" font-size="11.5" text-anchor="start" font-family="Liberation Serif,serif" letter-spacing="1.1" stroke="#111" stroke-width="0.22" fill="#111">(d)</text>
<text x="5.0" y="361.0" font-size="11.5" text-anchor="start" font-family="Liberation Serif,serif" letter-spacing="1.1" stroke="#111" stroke-width="0.22" fill="#111">(e)</text>
<text x="185.5" y="362.0" font-size="11.5" text-anchor="start" font-family="Liberation Serif,serif" letter-spacing="1.1" stroke="#111" stroke-width="0.22" fill="#111">(f)</text>
<rect x="41.2" y="19.6" width="23.5" height="74.6" fill="#1868c4"/>
<rect x="26.1" y="94" width="53.2" height="42.3" fill="#8ec4ec"/>
<path d="M67.1 21V93.5" stroke="#000" stroke-width="0.95"/>
<path d="M67.1 19.8l-1.8 3.9h3.6zM67.1 94.3l-1.8-3.9h3.6z" fill="#000"/>
<text x="53.0" y="60.2" font-size="9.5" text-anchor="middle" font-family="Liberation Serif,serif" font-weight="bold" fill="#123">SiN</text>
<text x="53.8" y="126.0" font-size="10.5" text-anchor="middle" font-family="Liberation Serif,serif" font-weight="bold" fill="#111">Glass</text>
<text x="52.3" y="148.6" font-size="10.2" text-anchor="middle" font-family="Liberation Sans,sans-serif" font-weight="bold" fill="#111">Side view</text>
<text x="73.5" y="58.6" font-size="11.1" text-anchor="start" font-family="Liberation Sans,sans-serif" fill="#111" stroke="#111" stroke-width="0.3"><tspan font-style="italic" stroke-width="0.1">H</tspan>=800nm</text>
<text x="96.3" y="82.3" font-size="11.1" text-anchor="start" font-family="Liberation Sans,sans-serif" fill="#111" stroke="#111" stroke-width="0.3"><tspan font-style="italic" stroke-width="0.1">P</tspan>=200nm</text>
<rect x="89.1" y="84.9" width="53.7" height="53" fill="#8ec4ec"/>
<rect x="109.3" y="93.2" width="13.3" height="35.9" fill="#1868c4"/>
<rect x="97.9" y="105.1" width="36" height="12.6" fill="#1868c4"/>
<path d="M98.2 118V130M133.7 118V130" stroke="#112" stroke-width="0.9" stroke-dasharray="1.7 1.1" fill="none"/>
<path d="M98.5 130.5H133.5" stroke="#123" stroke-width="0.8"/>
<path d="M98 130.5l2.6-1.3v2.6zM134 130.5l-2.6-1.3v2.6z" fill="#123"/>
<path d="M135.3 105.5V117.5" stroke="#123" stroke-width="0.7"/>
<path d="M135.3 105l-1.1 2.2h2.2zM135.3 118l-1.1-2.2h2.2z" fill="#123"/>
<text x="136.4" y="114.8" font-size="7" text-anchor="start" font-family="Liberation Sans,sans-serif" font-style="italic" fill="#112" stroke="#112" stroke-width="0.2">W</text>
<text x="114.3" y="138.2" font-size="7" text-anchor="start" font-family="Liberation Sans,sans-serif" font-style="italic" fill="#112" stroke="#112" stroke-width="0.2">L</text>
<text x="117.5" y="150.3" font-size="10.2" text-anchor="middle" font-family="Liberation Sans,sans-serif" font-weight="bold" fill="#111">Top view</text>
<rect x="220.0" y="29.3" width="104.2" height="51.7" fill="url(#ra0)"/>
<rect x="220.0" y="81.0" width="104.2" height="51.1" fill="url(#ra1)"/>
<rect x="405.0" y="24.3" width="109.2" height="55.8" fill="url(#rb0)"/>
<rect x="405.0" y="80.1" width="109.2" height="55.2" fill="url(#rb1)"/>
<text x="272.1" y="19.3" font-size="11" text-anchor="middle" font-family="Liberation Serif,serif" stroke="#222" stroke-width="0.15" fill="#222">λ=650nm</text>
<text x="219.0" y="144.5" font-size="9.5" text-anchor="middle" font-family="Liberation Serif,serif" fill="#222">-2</text>
<text x="245.1" y="144.5" font-size="9.5" text-anchor="middle" font-family="Liberation Serif,serif" fill="#222">-1</text>
<text x="272.1" y="144.5" font-size="9.5" text-anchor="middle" font-family="Liberation Serif,serif" fill="#222">0</text>
<text x="298.1" y="144.5" font-size="9.5" text-anchor="middle" font-family="Liberation Serif,serif" fill="#222">1</text>
<text x="324.2" y="144.5" font-size="9.5" text-anchor="middle" font-family="Liberation Serif,serif" fill="#222">2</text>
<text x="216.5" y="32.3" font-size="9.5" text-anchor="end" font-family="Liberation Serif,serif" fill="#222">2</text>
<text x="216.5" y="58.0" font-size="9.5" text-anchor="end" font-family="Liberation Serif,serif" fill="#222">1</text>
<text x="216.5" y="83.8" font-size="9.5" text-anchor="end" font-family="Liberation Serif,serif" fill="#222">0</text>
<text x="216.5" y="109.5" font-size="9.5" text-anchor="end" font-family="Liberation Serif,serif" fill="#222">-1</text>
<text x="216.5" y="135.2" font-size="9.5" text-anchor="end" font-family="Liberation Serif,serif" fill="#222">-2</text>
<text x="272.1" y="158.4" font-size="12" text-anchor="middle" font-family="Liberation Serif,serif" fill="#222">x(<tspan font-style="italic">μ</tspan>m)</text>
<text transform="translate(205.5 80.8) rotate(-90)" font-size="12" text-anchor="middle" fill="#222" font-family="Liberation Serif,serif">y(<tspan font-style="italic">μ</tspan>m)</text>
<rect x="329.2" y="29.3" width="7.6" height="102.9" fill="url(#cb)"/>
<text x="340.1" y="32.8" font-size="9" text-anchor="start" font-family="Liberation Serif,serif" fill="#222">2<tspan font-style="italic">π</tspan></text>
<text x="340.1" y="58.2" font-size="9" text-anchor="start" font-family="Liberation Serif,serif" fill="#222">3/2<tspan font-style="italic">π</tspan></text>
<text x="340.1" y="84.0" font-size="9" text-anchor="start" font-family="Liberation Serif,serif" fill="#222"><tspan font-style="italic">π</tspan></text>
<text x="340.1" y="109.7" font-size="9" text-anchor="start" font-family="Liberation Serif,serif" fill="#222">1/2<tspan font-style="italic">π</tspan></text>
<text x="340.1" y="136.4" font-size="9" text-anchor="start" font-family="Liberation Serif,serif" fill="#222">0</text>
<text x="459.6" y="17.5" font-size="11" text-anchor="middle" font-family="Liberation Serif,serif" stroke="#222" stroke-width="0.15" fill="#222">λ=860nm</text>
<text x="404.0" y="146.4" font-size="9.5" text-anchor="middle" font-family="Liberation Serif,serif" fill="#222">-2</text>
<text x="431.3" y="146.4" font-size="9.5" text-anchor="middle" font-family="Liberation Serif,serif" fill="#222">-1</text>
<text x="459.6" y="146.4" font-size="9.5" text-anchor="middle" font-family="Liberation Serif,serif" fill="#222">0</text>
<text x="486.9" y="146.4" font-size="9.5" text-anchor="middle" font-family="Liberation Serif,serif" fill="#222">1</text>
<text x="514.2" y="146.4" font-size="9.5" text-anchor="middle" font-family="Liberation Serif,serif" fill="#222">2</text>
<text x="401.5" y="27.3" font-size="9.5" text-anchor="end" font-family="Liberation Serif,serif" fill="#222">2</text>
<text x="401.5" y="55.1" font-size="9.5" text-anchor="end" font-family="Liberation Serif,serif" fill="#222">1</text>
<text x="401.5" y="82.8" font-size="9.5" text-anchor="end" font-family="Liberation Serif,serif" fill="#222">0</text>
<text x="401.5" y="110.6" font-size="9.5" text-anchor="end" font-family="Liberation Serif,serif" fill="#222">-1</text>
<text x="401.5" y="138.3" font-size="9.5" text-anchor="end" font-family="Liberation Serif,serif" fill="#222">-2</text>
<text x="459.6" y="159.3" font-size="12" text-anchor="middle" font-family="Liberation Serif,serif" fill="#222">x(<tspan font-style="italic">μ</tspan>m)</text>
<text transform="translate(390.5 79.8) rotate(-90)" font-size="12" text-anchor="middle" fill="#222" font-family="Liberation Serif,serif">y(<tspan font-style="italic">μ</tspan>m)</text>
<rect x="519.2" y="24.3" width="7.6" height="111.0" fill="url(#cb)"/>
<text x="530.1" y="27.8" font-size="9" text-anchor="start" font-family="Liberation Serif,serif" fill="#222">2<tspan font-style="italic">π</tspan></text>
<text x="530.1" y="55.3" font-size="9" text-anchor="start" font-family="Liberation Serif,serif" fill="#222">3/2<tspan font-style="italic">π</tspan></text>
<text x="530.1" y="83.0" font-size="9" text-anchor="start" font-family="Liberation Serif,serif" fill="#222"><tspan font-style="italic">π</tspan></text>
<text x="530.1" y="110.8" font-size="9" text-anchor="start" font-family="Liberation Serif,serif" fill="#222">1/2<tspan font-style="italic">π</tspan></text>
<text x="530.1" y="139.5" font-size="9" text-anchor="start" font-family="Liberation Serif,serif" fill="#222">0</text>
<g fill="#2b70c0"><rect x="31.12" y="191.84" width="5.45" height="5.61"/><rect x="37.61" y="191.84" width="5.45" height="5.61"/><rect x="44.10" y="191.84" width="5.45" height="5.61"/><rect x="50.56" y="191.81" width="5.50" height="5.67" rx="1.9"/><rect x="59.16" y="193.99" width="1.30" height="1.30" opacity="0.85"/><rect x="65.14" y="193.46" width="2.30" height="2.37"/><rect x="70.44" y="192.22" width="4.70" height="4.84" rx="1.7"/><rect x="76.93" y="192.22" width="4.70" height="4.84" rx="1.7"/><rect x="83.02" y="191.81" width="5.50" height="5.67" rx="1.9"/><rect x="89.50" y="191.81" width="5.50" height="5.67" rx="1.9"/><rect x="96.00" y="191.81" width="5.50" height="5.67" rx="1.9"/><rect x="102.49" y="191.81" width="5.50" height="5.67" rx="1.9"/><rect x="108.97" y="191.81" width="5.50" height="5.67" rx="1.9"/><rect x="115.87" y="192.22" width="4.70" height="4.84" rx="1.7"/><rect x="122.71" y="192.58" width="4.00" height="4.12"/><rect x="129.19" y="192.58" width="4.00" height="4.12"/><rect x="135.69" y="192.58" width="4.00" height="4.12"/><rect x="141.43" y="191.81" width="5.50" height="5.67" rx="1.9"/><rect x="147.91" y="191.81" width="5.50" height="5.67" rx="1.9"/><rect x="154.41" y="191.81" width="5.50" height="5.67" rx="1.9"/><rect x="31.12" y="198.52" width="5.45" height="5.61"/><rect x="37.61" y="198.52" width="5.45" height="5.61"/><rect x="46.18" y="200.68" width="1.30" height="1.30" opacity="0.85"/><rect x="52.66" y="200.68" width="1.30" height="1.30" opacity="0.85"/><rect x="59.16" y="200.68" width="1.30" height="1.30" opacity="0.85"/><path d="M64.39 201.33h3.8M66.30 199.43v3.8" stroke="#2b70c0" stroke-width="0.5" opacity="0.6"/><rect x="71.63" y="200.14" width="2.30" height="2.37"/><rect x="78.12" y="200.14" width="2.30" height="2.37"/><rect x="83.42" y="198.91" width="4.70" height="4.84" rx="1.7"/><rect x="89.53" y="198.52" width="5.45" height="5.61"/><rect x="96.02" y="198.52" width="5.45" height="5.61"/><rect x="102.49" y="198.49" width="5.50" height="5.67" rx="1.9"/><rect x="109.00" y="198.52" width="5.45" height="5.61"/><rect x="115.87" y="198.91" width="4.70" height="4.84" rx="1.7"/><rect x="122.36" y="198.91" width="4.70" height="4.84" rx="1.7"/><rect x="128.84" y="198.91" width="4.70" height="4.84" rx="1.7"/><rect x="135.69" y="199.27" width="4.00" height="4.12"/><rect x="141.45" y="198.52" width="5.45" height="5.61"/><rect x="147.91" y="198.49" width="5.50" height="5.67" rx="1.9"/><rect x="154.41" y="198.49" width="5.50" height="5.67" rx="1.9"/><rect x="31.12" y="205.21" width="5.45" height="5.61"/><rect x="39.69" y="207.36" width="1.30" height="1.30" opacity="0.85"/><rect x="46.18" y="207.36" width="1.30" height="1.30" opacity="0.85"/><rect x="52.66" y="207.36" width="1.30" height="1.30" opacity="0.85"/><rect x="58.66" y="206.83" width="2.30" height="2.37"/><rect x="63.80" y="205.44" width="5.00" height="5.15" rx="1.4"/><rect x="71.63" y="206.83" width="2.30" height="2.37"/><rect x="78.12" y="206.83" width="2.30" height="2.37"/><rect x="84.61" y="206.83" width="2.30" height="2.37"/><rect x="89.50" y="205.18" width="5.50" height="5.67" rx="1.9"/><rect x="96.00" y="205.18" width="5.50" height="5.67" rx="1.9"/><rect x="102.49" y="205.18" width="5.50" height="5.67" rx="1.9"/><rect x="108.97" y="205.18" width="5.50" height="5.67" rx="1.9"/><rect x="115.87" y="205.59" width="4.70" height="4.84" rx="1.7"/><rect x="122.36" y="205.59" width="4.70" height="4.84" rx="1.7"/><rect x="129.19" y="205.95" width="4.00" height="4.12"/><rect x="137.03" y="207.36" width="1.30" height="1.30" opacity="0.85"/><rect x="142.18" y="205.95" width="4.00" height="4.12"/><rect x="147.91" y="205.18" width="5.50" height="5.67" rx="1.9"/><rect x="154.41" y="205.18" width="5.50" height="5.67" rx="1.9"/><rect x="31.12" y="211.89" width="5.45" height="5.61"/><rect x="39.69" y="214.05" width="1.30" height="1.30" opacity="0.85"/><rect x="46.18" y="214.05" width="1.30" height="1.30" opacity="0.85"/><rect x="52.66" y="214.05" width="1.30" height="1.30" opacity="0.85"/><path d="M59.11 212.80h1.4v1.2h1.2v1.4h-1.2v1.2h-1.4v-1.2h-1.2v-1.4h1.2z"/><path d="M65.59 212.80h1.4v1.2h1.2v1.4h-1.2v1.2h-1.4v-1.2h-1.2v-1.4h1.2z"/><rect x="71.63" y="213.51" width="2.30" height="2.37"/><rect x="78.12" y="213.51" width="2.30" height="2.37"/><rect x="84.61" y="213.51" width="2.30" height="2.37"/><rect x="89.50" y="211.86" width="5.50" height="5.67" rx="1.9"/><rect x="96.02" y="211.89" width="5.45" height="5.61"/><rect x="102.51" y="211.89" width="5.45" height="5.61"/><rect x="109.00" y="211.89" width="5.45" height="5.61"/><rect x="115.87" y="212.28" width="4.70" height="4.84" rx="1.7"/><rect x="122.36" y="212.28" width="4.70" height="4.84" rx="1.7"/><rect x="128.84" y="212.28" width="4.70" height="4.84" rx="1.7"/><rect x="137.03" y="214.05" width="1.30" height="1.30" opacity="0.85"/><rect x="143.53" y="214.05" width="1.30" height="1.30" opacity="0.85"/><rect x="147.91" y="211.86" width="5.50" height="5.67" rx="1.9"/><rect x="154.41" y="211.86" width="5.50" height="5.67" rx="1.9"/><rect x="31.12" y="218.58" width="5.45" height="5.61"/><rect x="39.69" y="220.73" width="1.30" height="1.30" opacity="0.85"/><rect x="46.18" y="220.73" width="1.30" height="1.30" opacity="0.85"/><rect x="52.66" y="220.73" width="1.30" height="1.30" opacity="0.85"/><path d="M59.11 219.48h1.4v1.2h1.2v1.4h-1.2v1.2h-1.4v-1.2h-1.2v-1.4h1.2z"/><path d="M65.59 219.48h1.4v1.2h1.2v1.4h-1.2v1.2h-1.4v-1.2h-1.2v-1.4h1.2z"/><path d="M72.08 219.48h1.4v1.2h1.2v1.4h-1.2v1.2h-1.4v-1.2h-1.2v-1.4h1.2z"/><rect x="78.12" y="220.20" width="2.30" height="2.37"/><rect x="84.61" y="220.20" width="2.30" height="2.37"/><rect x="89.53" y="218.58" width="5.45" height="5.61"/><rect x="96.02" y="218.58" width="5.45" height="5.61"/><rect x="102.51" y="218.58" width="5.45" height="5.61"/><rect x="109.00" y="218.58" width="5.45" height="5.61"/><rect x="115.87" y="218.96" width="4.70" height="4.84" rx="1.7"/><rect x="122.36" y="218.96" width="4.70" height="4.84" rx="1.7"/><rect x="128.84" y="218.96" width="4.70" height="4.84" rx="1.7"/><rect x="137.03" y="220.73" width="1.30" height="1.30" opacity="0.85"/><rect x="143.53" y="220.73" width="1.30" height="1.30" opacity="0.85"/><rect x="147.91" y="218.55" width="5.50" height="5.67" rx="1.9"/><rect x="154.41" y="218.55" width="5.50" height="5.67" rx="1.9"/><rect x="31.12" y="225.26" width="5.45" height="5.61"/><rect x="39.69" y="227.42" width="1.30" height="1.30" opacity="0.85"/><rect x="46.18" y="227.42" width="1.30" height="1.30" opacity="0.85"/><rect x="52.66" y="227.42" width="1.30" height="1.30" opacity="0.85"/><path d="M59.11 226.17h1.4v1.2h1.2v1.4h-1.2v1.2h-1.4v-1.2h-1.2v-1.4h1.2z"/><path d="M65.59 226.17h1.4v1.2h1.2v1.4h-1.2v1.2h-1.4v-1.2h-1.2v-1.4h1.2z"/><path d="M72.08 226.17h1.4v1.2h1.2v1.4h-1.2v1.2h-1.4v-1.2h-1.2v-1.4h1.2z"/><rect x="78.12" y="226.88" width="2.30" height="2.37"/><rect x="84.61" y="226.88" width="2.30" height="2.37"/><rect x="89.53" y="225.26" width="5.45" height="5.61"/><rect x="96.02" y="225.26" width="5.45" height="5.61"/><rect x="102.51" y="225.26" width="5.45" height="5.61"/><rect x="109.00" y="225.26" width="5.45" height="5.61"/><rect x="115.87" y="225.65" width="4.70" height="4.84" rx="1.7"/><rect x="122.36" y="225.65" width="4.70" height="4.84" rx="1.7"/><rect x="128.84" y="225.65" width="4.70" height="4.84" rx="1.7"/><rect x="137.03" y="227.42" width="1.30" height="1.30" opacity="0.85"/><rect x="143.53" y="227.42" width="1.30" height="1.30" opacity="0.85"/><rect x="147.91" y="225.23" width="5.50" height="5.67" rx="1.9"/><rect x="154.41" y="225.23" width="5.50" height="5.67" rx="1.9"/><rect x="31.12" y="231.95" width="5.45" height="5.61"/><rect x="39.69" y="234.10" width="1.30" height="1.30" opacity="0.85"/><rect x="46.18" y="234.10" width="1.30" height="1.30" opacity="0.85"/><rect x="52.66" y="234.10" width="1.30" height="1.30" opacity="0.85"/><path d="M59.11 232.85h1.4v1.2h1.2v1.4h-1.2v1.2h-1.4v-1.2h-1.2v-1.4h1.2z"/><path d="M65.59 232.85h1.4v1.2h1.2v1.4h-1.2v1.2h-1.4v-1.2h-1.2v-1.4h1.2z"/><rect x="71.63" y="233.57" width="2.30" height="2.37"/><rect x="78.12" y="233.57" width="2.30" height="2.37"/><rect x="84.61" y="233.57" width="2.30" height="2.37"/><rect x="89.50" y="231.92" width="5.50" height="5.67" rx="1.9"/><rect x="96.02" y="231.95" width="5.45" height="5.61"/><rect x="102.51" y="231.95" width="5.45" height="5.61"/><rect x="109.00" y="231.95" width="5.45" height="5.61"/><rect x="115.87" y="232.33" width="4.70" height="4.84" rx="1.7"/><rect x="122.36" y="232.33" width="4.70" height="4.84" rx="1.7"/><rect x="128.84" y="232.33" width="4.70" height="4.84" rx="1.7"/><rect x="137.03" y="234.10" width="1.30" height="1.30" opacity="0.85"/><rect x="143.53" y="234.10" width="1.30" height="1.30" opacity="0.85"/><rect x="147.91" y="231.92" width="5.50" height="5.67" rx="1.9"/><rect x="154.41" y="231.92" width="5.50" height="5.67" rx="1.9"/><rect x="31.12" y="238.63" width="5.45" height="5.61"/><rect x="39.69" y="240.79" width="1.30" height="1.30" opacity="0.85"/><rect x="46.18" y="240.79" width="1.30" height="1.30" opacity="0.85"/><rect x="52.66" y="240.79" width="1.30" height="1.30" opacity="0.85"/><rect x="58.66" y="240.25" width="2.30" height="2.37"/><rect x="63.80" y="238.86" width="5.00" height="5.15" rx="1.4"/><rect x="71.63" y="240.25" width="2.30" height="2.37"/><rect x="78.12" y="240.25" width="2.30" height="2.37"/><rect x="84.61" y="240.25" width="2.30" height="2.37"/><rect x="89.50" y="238.60" width="5.50" height="5.67" rx="1.9"/><rect x="96.00" y="238.60" width="5.50" height="5.67" rx="1.9"/><rect x="102.49" y="238.60" width="5.50" height="5.67" rx="1.9"/><rect x="108.97" y="238.60" width="5.50" height="5.67" rx="1.9"/><rect x="115.87" y="239.02" width="4.70" height="4.84" rx="1.7"/><rect x="122.36" y="239.02" width="4.70" height="4.84" rx="1.7"/><rect x="129.19" y="239.38" width="4.00" height="4.12"/><rect x="137.03" y="240.79" width="1.30" height="1.30" opacity="0.85"/><rect x="142.18" y="239.38" width="4.00" height="4.12"/><rect x="147.91" y="238.60" width="5.50" height="5.67" rx="1.9"/><rect x="154.41" y="238.60" width="5.50" height="5.67" rx="1.9"/><rect x="31.12" y="245.32" width="5.45" height="5.61"/><rect x="37.61" y="245.32" width="5.45" height="5.61"/><rect x="46.18" y="247.47" width="1.30" height="1.30" opacity="0.85"/><rect x="52.66" y="247.47" width="1.30" height="1.30" opacity="0.85"/><rect x="59.16" y="247.47" width="1.30" height="1.30" opacity="0.85"/><path d="M64.39 248.12h3.8M66.30 246.22v3.8" stroke="#2b70c0" stroke-width="0.5" opacity="0.6"/><rect x="71.63" y="246.94" width="2.30" height="2.37"/><rect x="78.12" y="246.94" width="2.30" height="2.37"/><rect x="83.42" y="245.70" width="4.70" height="4.84" rx="1.7"/><rect x="89.53" y="245.32" width="5.45" height="5.61"/><rect x="96.02" y="245.32" width="5.45" height="5.61"/><rect x="102.49" y="245.29" width="5.50" height="5.67" rx="1.9"/><rect x="109.00" y="245.32" width="5.45" height="5.61"/><rect x="115.87" y="245.70" width="4.70" height="4.84" rx="1.7"/><rect x="122.36" y="245.70" width="4.70" height="4.84" rx="1.7"/><rect x="128.84" y="245.70" width="4.70" height="4.84" rx="1.7"/><rect x="135.69" y="246.06" width="4.00" height="4.12"/><rect x="141.45" y="245.32" width="5.45" height="5.61"/><rect x="147.91" y="245.29" width="5.50" height="5.67" rx="1.9"/><rect x="154.41" y="245.29" width="5.50" height="5.67" rx="1.9"/><rect x="31.12" y="252.00" width="5.45" height="5.61"/><rect x="37.61" y="252.00" width="5.45" height="5.61"/><rect x="44.10" y="252.00" width="5.45" height="5.61"/><rect x="50.56" y="251.97" width="5.50" height="5.67" rx="1.9"/><rect x="59.16" y="254.16" width="1.30" height="1.30" opacity="0.85"/><rect x="65.14" y="253.62" width="2.30" height="2.37"/><rect x="70.44" y="252.39" width="4.70" height="4.84" rx="1.7"/><rect x="76.93" y="252.39" width="4.70" height="4.84" rx="1.7"/><rect x="83.02" y="251.97" width="5.50" height="5.67" rx="1.9"/><rect x="89.50" y="251.97" width="5.50" height="5.67" rx="1.9"/><rect x="96.00" y="251.97" width="5.50" height="5.67" rx="1.9"/><rect x="102.49" y="251.97" width="5.50" height="5.67" rx="1.9"/><rect x="108.97" y="251.97" width="5.50" height="5.67" rx="1.9"/><rect x="115.87" y="252.39" width="4.70" height="4.84" rx="1.7"/><rect x="122.71" y="252.75" width="4.00" height="4.12"/><rect x="129.19" y="252.75" width="4.00" height="4.12"/><rect x="135.69" y="252.75" width="4.00" height="4.12"/><rect x="141.43" y="251.97" width="5.50" height="5.67" rx="1.9"/><rect x="147.91" y="251.97" width="5.50" height="5.67" rx="1.9"/><rect x="154.41" y="251.97" width="5.50" height="5.67" rx="1.9"/><rect x="31.09" y="258.66" width="5.50" height="5.67" rx="1.9"/><rect x="37.59" y="258.66" width="5.50" height="5.67" rx="1.9"/><rect x="44.08" y="258.66" width="5.50" height="5.67" rx="1.9"/><rect x="51.31" y="259.43" width="4.00" height="4.12"/><rect x="57.81" y="259.43" width="4.00" height="4.12"/><rect x="64.30" y="259.43" width="4.00" height="4.12"/><rect x="70.44" y="259.07" width="4.70" height="4.84" rx="1.7"/><rect x="76.53" y="258.66" width="5.50" height="5.67" rx="1.9"/><rect x="83.02" y="258.66" width="5.50" height="5.67" rx="1.9"/><rect x="89.50" y="258.66" width="5.50" height="5.67" rx="1.9"/><rect x="96.00" y="258.66" width="5.50" height="5.67" rx="1.9"/><rect x="102.49" y="258.66" width="5.50" height="5.67" rx="1.9"/><rect x="109.38" y="259.07" width="4.70" height="4.84" rx="1.7"/><rect x="115.87" y="259.07" width="4.70" height="4.84" rx="1.7"/><rect x="123.56" y="260.31" width="2.30" height="2.37"/><rect x="130.54" y="260.84" width="1.30" height="1.30" opacity="0.85"/><rect x="134.94" y="258.66" width="5.50" height="5.67" rx="1.9"/><rect x="141.45" y="258.69" width="5.45" height="5.61"/><rect x="147.94" y="258.69" width="5.45" height="5.61"/><rect x="154.43" y="258.69" width="5.45" height="5.61"/><rect x="31.09" y="265.34" width="5.50" height="5.67" rx="1.9"/><rect x="37.59" y="265.34" width="5.50" height="5.67" rx="1.9"/><rect x="44.10" y="265.37" width="5.45" height="5.61"/><rect x="51.31" y="266.12" width="4.00" height="4.12"/><rect x="57.46" y="265.76" width="4.70" height="4.84" rx="1.7"/><rect x="63.95" y="265.76" width="4.70" height="4.84" rx="1.7"/><rect x="70.44" y="265.76" width="4.70" height="4.84" rx="1.7"/><rect x="76.55" y="265.37" width="5.45" height="5.61"/><rect x="83.02" y="265.34" width="5.50" height="5.67" rx="1.9"/><rect x="89.53" y="265.37" width="5.45" height="5.61"/><rect x="96.02" y="265.37" width="5.45" height="5.61"/><rect x="102.89" y="265.76" width="4.70" height="4.84" rx="1.7"/><rect x="110.57" y="266.99" width="2.30" height="2.37"/><rect x="117.06" y="266.99" width="2.30" height="2.37"/><path d="M122.81 268.18h3.8M124.71 266.28v3.8" stroke="#2b70c0" stroke-width="0.5" opacity="0.6"/><rect x="130.54" y="267.53" width="1.30" height="1.30" opacity="0.85"/><rect x="137.03" y="267.53" width="1.30" height="1.30" opacity="0.85"/><rect x="143.53" y="267.53" width="1.30" height="1.30" opacity="0.85"/><rect x="147.94" y="265.37" width="5.45" height="5.61"/><rect x="154.43" y="265.37" width="5.45" height="5.61"/><rect x="31.09" y="272.03" width="5.50" height="5.67" rx="1.9"/><rect x="37.59" y="272.03" width="5.50" height="5.67" rx="1.9"/><rect x="44.83" y="272.80" width="4.00" height="4.12"/><rect x="52.66" y="274.21" width="1.30" height="1.30" opacity="0.85"/><rect x="57.81" y="272.80" width="4.00" height="4.12"/><rect x="63.95" y="272.44" width="4.70" height="4.84" rx="1.7"/><rect x="70.44" y="272.44" width="4.70" height="4.84" rx="1.7"/><rect x="76.53" y="272.03" width="5.50" height="5.67" rx="1.9"/><rect x="83.02" y="272.03" width="5.50" height="5.67" rx="1.9"/><rect x="89.50" y="272.03" width="5.50" height="5.67" rx="1.9"/><rect x="96.00" y="272.03" width="5.50" height="5.67" rx="1.9"/><rect x="104.09" y="273.68" width="2.30" height="2.37"/><rect x="110.57" y="273.68" width="2.30" height="2.37"/><rect x="117.06" y="273.68" width="2.30" height="2.37"/><rect x="122.21" y="272.29" width="5.00" height="5.15" rx="1.4"/><rect x="130.04" y="273.68" width="2.30" height="2.37"/><rect x="137.03" y="274.21" width="1.30" height="1.30" opacity="0.85"/><rect x="143.53" y="274.21" width="1.30" height="1.30" opacity="0.85"/><rect x="150.01" y="274.21" width="1.30" height="1.30" opacity="0.85"/><rect x="154.43" y="272.06" width="5.45" height="5.61"/><rect x="31.09" y="278.71" width="5.50" height="5.67" rx="1.9"/><rect x="37.59" y="278.71" width="5.50" height="5.67" rx="1.9"/><rect x="46.18" y="280.90" width="1.30" height="1.30" opacity="0.85"/><rect x="52.66" y="280.90" width="1.30" height="1.30" opacity="0.85"/><rect x="57.46" y="279.13" width="4.70" height="4.84" rx="1.7"/><rect x="63.95" y="279.13" width="4.70" height="4.84" rx="1.7"/><rect x="70.44" y="279.13" width="4.70" height="4.84" rx="1.7"/><rect x="76.55" y="278.74" width="5.45" height="5.61"/><rect x="83.04" y="278.74" width="5.45" height="5.61"/><rect x="89.53" y="278.74" width="5.45" height="5.61"/><rect x="96.00" y="278.71" width="5.50" height="5.67" rx="1.9"/><rect x="104.09" y="280.36" width="2.30" height="2.37"/><rect x="110.57" y="280.36" width="2.30" height="2.37"/><rect x="117.06" y="280.36" width="2.30" height="2.37"/><path d="M124.01 279.65h1.4v1.2h1.2v1.4h-1.2v1.2h-1.4v-1.2h-1.2v-1.4h1.2z"/><path d="M130.50 279.65h1.4v1.2h1.2v1.4h-1.2v1.2h-1.4v-1.2h-1.2v-1.4h1.2z"/><rect x="137.03" y="280.90" width="1.30" height="1.30" opacity="0.85"/><rect x="143.53" y="280.90" width="1.30" height="1.30" opacity="0.85"/><rect x="150.01" y="280.90" width="1.30" height="1.30" opacity="0.85"/><rect x="154.43" y="278.74" width="5.45" height="5.61"/><rect x="31.09" y="285.40" width="5.50" height="5.67" rx="1.9"/><rect x="37.59" y="285.40" width="5.50" height="5.67" rx="1.9"/><rect x="46.18" y="287.58" width="1.30" height="1.30" opacity="0.85"/><rect x="52.66" y="287.58" width="1.30" height="1.30" opacity="0.85"/><rect x="57.46" y="285.81" width="4.70" height="4.84" rx="1.7"/><rect x="63.95" y="285.81" width="4.70" height="4.84" rx="1.7"/><rect x="70.44" y="285.81" width="4.70" height="4.84" rx="1.7"/><rect x="76.55" y="285.43" width="5.45" height="5.61"/><rect x="83.04" y="285.43" width="5.45" height="5.61"/><rect x="89.53" y="285.43" width="5.45" height="5.61"/><rect x="96.02" y="285.43" width="5.45" height="5.61"/><rect x="104.09" y="287.05" width="2.30" height="2.37"/><rect x="110.57" y="287.05" width="2.30" height="2.37"/><path d="M117.52 286.33h1.4v1.2h1.2v1.4h-1.2v1.2h-1.4v-1.2h-1.2v-1.4h1.2z"/><path d="M124.01 286.33h1.4v1.2h1.2v1.4h-1.2v1.2h-1.4v-1.2h-1.2v-1.4h1.2z"/><path d="M130.50 286.33h1.4v1.2h1.2v1.4h-1.2v1.2h-1.4v-1.2h-1.2v-1.4h1.2z"/><rect x="137.03" y="287.58" width="1.30" height="1.30" opacity="0.85"/><rect x="143.53" y="287.58" width="1.30" height="1.30" opacity="0.85"/><rect x="150.01" y="287.58" width="1.30" height="1.30" opacity="0.85"/><rect x="154.43" y="285.43" width="5.45" height="5.61"/><rect x="31.09" y="292.08" width="5.50" height="5.67" rx="1.9"/><rect x="37.59" y="292.08" width="5.50" height="5.67" rx="1.9"/><rect x="46.18" y="294.27" width="1.30" height="1.30" opacity="0.85"/><rect x="52.66" y="294.27" width="1.30" height="1.30" opacity="0.85"/><rect x="57.46" y="292.50" width="4.70" height="4.84" rx="1.7"/><rect x="63.95" y="292.50" width="4.70" height="4.84" rx="1.7"/><rect x="70.44" y="292.50" width="4.70" height="4.84" rx="1.7"/><rect x="76.55" y="292.11" width="5.45" height="5.61"/><rect x="83.04" y="292.11" width="5.45" height="5.61"/><rect x="89.53" y="292.11" width="5.45" height="5.61"/><rect x="96.02" y="292.11" width="5.45" height="5.61"/><rect x="104.09" y="293.73" width="2.30" height="2.37"/><rect x="110.57" y="293.73" width="2.30" height="2.37"/><path d="M117.52 293.02h1.4v1.2h1.2v1.4h-1.2v1.2h-1.4v-1.2h-1.2v-1.4h1.2z"/><path d="M124.01 293.02h1.4v1.2h1.2v1.4h-1.2v1.2h-1.4v-1.2h-1.2v-1.4h1.2z"/><path d="M130.50 293.02h1.4v1.2h1.2v1.4h-1.2v1.2h-1.4v-1.2h-1.2v-1.4h1.2z"/><rect x="137.03" y="294.27" width="1.30" height="1.30" opacity="0.85"/><rect x="143.53" y="294.27" width="1.30" height="1.30" opacity="0.85"/><rect x="150.01" y="294.27" width="1.30" height="1.30" opacity="0.85"/><rect x="154.43" y="292.11" width="5.45" height="5.61"/><rect x="31.09" y="298.77" width="5.50" height="5.67" rx="1.9"/><rect x="37.59" y="298.77" width="5.50" height="5.67" rx="1.9"/><rect x="46.18" y="300.95" width="1.30" height="1.30" opacity="0.85"/><rect x="52.66" y="300.95" width="1.30" height="1.30" opacity="0.85"/><rect x="57.46" y="299.18" width="4.70" height="4.84" rx="1.7"/><rect x="63.95" y="299.18" width="4.70" height="4.84" rx="1.7"/><rect x="70.44" y="299.18" width="4.70" height="4.84" rx="1.7"/><rect x="76.55" y="298.80" width="5.45" height="5.61"/><rect x="83.04" y="298.80" width="5.45" height="5.61"/><rect x="89.53" y="298.80" width="5.45" height="5.61"/><rect x="96.00" y="298.77" width="5.50" height="5.67" rx="1.9"/><rect x="104.09" y="300.42" width="2.30" height="2.37"/><rect x="110.57" y="300.42" width="2.30" height="2.37"/><rect x="117.06" y="300.42" width="2.30" height="2.37"/><path d="M124.01 299.70h1.4v1.2h1.2v1.4h-1.2v1.2h-1.4v-1.2h-1.2v-1.4h1.2z"/><path d="M130.50 299.70h1.4v1.2h1.2v1.4h-1.2v1.2h-1.4v-1.2h-1.2v-1.4h1.2z"/><rect x="137.03" y="300.95" width="1.30" height="1.30" opacity="0.85"/><rect x="143.53" y="300.95" width="1.30" height="1.30" opacity="0.85"/><rect x="150.01" y="300.95" width="1.30" height="1.30" opacity="0.85"/><rect x="154.43" y="298.80" width="5.45" height="5.61"/><rect x="31.09" y="305.45" width="5.50" height="5.67" rx="1.9"/><rect x="37.59" y="305.45" width="5.50" height="5.67" rx="1.9"/><rect x="44.83" y="306.23" width="4.00" height="4.12"/><rect x="52.66" y="307.64" width="1.30" height="1.30" opacity="0.85"/><rect x="57.81" y="306.23" width="4.00" height="4.12"/><rect x="63.95" y="305.87" width="4.70" height="4.84" rx="1.7"/><rect x="70.44" y="305.87" width="4.70" height="4.84" rx="1.7"/><rect x="76.53" y="305.45" width="5.50" height="5.67" rx="1.9"/><rect x="83.02" y="305.45" width="5.50" height="5.67" rx="1.9"/><rect x="89.50" y="305.45" width="5.50" height="5.67" rx="1.9"/><rect x="96.00" y="305.45" width="5.50" height="5.67" rx="1.9"/><rect x="104.09" y="307.10" width="2.30" height="2.37"/><rect x="110.57" y="307.10" width="2.30" height="2.37"/><rect x="117.06" y="307.10" width="2.30" height="2.37"/><rect x="122.21" y="305.71" width="5.00" height="5.15" rx="1.4"/><rect x="130.04" y="307.10" width="2.30" height="2.37"/><rect x="137.03" y="307.64" width="1.30" height="1.30" opacity="0.85"/><rect x="143.53" y="307.64" width="1.30" height="1.30" opacity="0.85"/><rect x="150.01" y="307.64" width="1.30" height="1.30" opacity="0.85"/><rect x="154.43" y="305.48" width="5.45" height="5.61"/><rect x="31.09" y="312.14" width="5.50" height="5.67" rx="1.9"/><rect x="37.59" y="312.14" width="5.50" height="5.67" rx="1.9"/><rect x="44.10" y="312.17" width="5.45" height="5.61"/><rect x="51.31" y="312.91" width="4.00" height="4.12"/><rect x="57.46" y="312.55" width="4.70" height="4.84" rx="1.7"/><rect x="63.95" y="312.55" width="4.70" height="4.84" rx="1.7"/><rect x="70.44" y="312.55" width="4.70" height="4.84" rx="1.7"/><rect x="76.55" y="312.17" width="5.45" height="5.61"/><rect x="83.02" y="312.14" width="5.50" height="5.67" rx="1.9"/><rect x="89.53" y="312.17" width="5.45" height="5.61"/><rect x="96.02" y="312.17" width="5.45" height="5.61"/><rect x="102.89" y="312.55" width="4.70" height="4.84" rx="1.7"/><rect x="110.57" y="313.79" width="2.30" height="2.37"/><rect x="117.06" y="313.79" width="2.30" height="2.37"/><path d="M122.81 314.97h3.8M124.71 313.07v3.8" stroke="#2b70c0" stroke-width="0.5" opacity="0.6"/><rect x="130.54" y="314.32" width="1.30" height="1.30" opacity="0.85"/><rect x="137.03" y="314.32" width="1.30" height="1.30" opacity="0.85"/><rect x="143.53" y="314.32" width="1.30" height="1.30" opacity="0.85"/><rect x="147.94" y="312.17" width="5.45" height="5.61"/><rect x="154.43" y="312.17" width="5.45" height="5.61"/><rect x="31.09" y="318.82" width="5.50" height="5.67" rx="1.9"/><rect x="37.59" y="318.82" width="5.50" height="5.67" rx="1.9"/><rect x="44.08" y="318.82" width="5.50" height="5.67" rx="1.9"/><rect x="51.31" y="319.60" width="4.00" height="4.12"/><rect x="57.81" y="319.60" width="4.00" height="4.12"/><rect x="64.30" y="319.60" width="4.00" height="4.12"/><rect x="70.44" y="319.24" width="4.70" height="4.84" rx="1.7"/><rect x="76.53" y="318.82" width="5.50" height="5.67" rx="1.9"/><rect x="83.02" y="318.82" width="5.50" height="5.67" rx="1.9"/><rect x="89.50" y="318.82" width="5.50" height="5.67" rx="1.9"/><rect x="96.00" y="318.82" width="5.50" height="5.67" rx="1.9"/><rect x="102.49" y="318.82" width="5.50" height="5.67" rx="1.9"/><rect x="109.38" y="319.24" width="4.70" height="4.84" rx="1.7"/><rect x="115.87" y="319.24" width="4.70" height="4.84" rx="1.7"/><rect x="123.56" y="320.47" width="2.30" height="2.37"/><rect x="130.54" y="321.01" width="1.30" height="1.30" opacity="0.85"/><rect x="134.94" y="318.82" width="5.50" height="5.67" rx="1.9"/><rect x="141.45" y="318.85" width="5.45" height="5.61"/><rect x="147.94" y="318.85" width="5.45" height="5.61"/><rect x="154.43" y="318.85" width="5.45" height="5.61"/></g>
<rect x="30.6" y="191.3" width="129.8" height="133.7" fill="none" stroke="#666" stroke-width="0.9"/>
<text x="29.6" y="337.3" font-size="9.5" text-anchor="middle" font-family="Liberation Serif,serif" fill="#222">-2</text>
<text x="62.1" y="337.3" font-size="9.5" text-anchor="middle" font-family="Liberation Serif,serif" fill="#222">-1</text>
<text x="95.5" y="337.3" font-size="9.5" text-anchor="middle" font-family="Liberation Serif,serif" fill="#222">0</text>
<text x="128.0" y="337.3" font-size="9.5" text-anchor="middle" font-family="Liberation Serif,serif" fill="#222">1</text>
<text x="160.4" y="337.3" font-size="9.5" text-anchor="middle" font-family="Liberation Serif,serif" fill="#222">2</text>
<text x="27.1" y="194.3" font-size="9.5" text-anchor="end" font-family="Liberation Serif,serif" fill="#222">2</text>
<text x="27.1" y="227.7" font-size="9.5" text-anchor="end" font-family="Liberation Serif,serif" fill="#222">1</text>
<text x="27.1" y="261.1" font-size="9.5" text-anchor="end" font-family="Liberation Serif,serif" fill="#222">0</text>
<text x="27.1" y="294.6" font-size="9.5" text-anchor="end" font-family="Liberation Serif,serif" fill="#222">-1</text>
<text x="27.1" y="328.0" font-size="9.5" text-anchor="end" font-family="Liberation Serif,serif" fill="#222">-2</text>
<text x="95.5" y="348.2" font-size="12" text-anchor="middle" font-family="Liberation Serif,serif" fill="#222">x(<tspan font-style="italic">μ</tspan>m)</text>
<text transform="translate(15.1 263.6) rotate(-90)" font-size="12" text-anchor="middle" fill="#222" font-family="Liberation Serif,serif">y(<tspan font-style="italic">μ</tspan>m)</text>
<rect x="38.2" y="376.3" width="53.7" height="99.5" fill="#b8b8b8"/>
<rect x="91.9" y="376.3" width="70.0" height="99.5" fill="#ffb5b5"/>
<path d="M38.2 431.0H161.9" stroke="#444" stroke-width="0.9" stroke-dasharray="3 2.2"/>
<path d="M38.2 422.1L41.7 421.1L47.0 416.1L50.6 415.1L54.1 414.1L55.9 414.6L59.4 412.6L64.7 412.6L70.0 411.6L73.5 412.1L77.1 414.1L80.6 416.1L84.1 417.6L87.7 421.1L91.2 423.1L94.7 423.6L98.3 425.1L101.8 427.0L105.4 428.5L108.9 430.0L112.4 433.0L116.0 438.0L119.5 442.0L123.0 441.5L126.6 445.0L130.1 447.9L135.4 448.4L138.9 448.9L144.2 451.4L147.8 451.4L153.1 450.9L158.4 449.9L161.9 449.4" fill="none" stroke="#2020c8" stroke-width="1.35" stroke-linejoin="round"/>
<path d="M38.2 445.0L41.7 448.9L45.3 449.9L48.8 451.9L52.3 453.4L55.9 453.9L59.4 454.9L62.9 454.9L66.5 456.4L70.0 458.4L73.5 455.9L77.1 450.9L80.6 447.9L84.1 446.4L87.7 445.0L91.2 443.5L94.7 443.0L98.3 440.0L101.8 437.5L105.4 436.0L108.9 433.0L112.4 429.0L116.0 424.1L119.5 419.1L123.0 423.1L126.6 418.1L130.1 416.6L135.4 416.6L140.7 414.1L144.2 414.1L153.1 414.1L158.4 413.6L161.9 414.1" fill="none" stroke="#e62626" stroke-width="1.35" stroke-linejoin="round"/>
<rect x="38.2" y="376.3" width="123.7" height="99.5" fill="none" stroke="#222" stroke-width="0.8"/>
<path d="M38.2 475.8v-1.6M38.2 376.3v1.6" stroke="#222" stroke-width="0.6"/>
<text transform="translate(41.4 483.3) rotate(-45)" font-size="9.3" text-anchor="end" font-family="Liberation Sans,sans-serif" fill="#222">400</text>
<path d="M55.9 475.8v-1.6M55.9 376.3v1.6" stroke="#222" stroke-width="0.6"/>
<text transform="translate(59.1 483.3) rotate(-45)" font-size="9.3" text-anchor="end" font-family="Liberation Sans,sans-serif" fill="#222">500</text>
<path d="M73.5 475.8v-1.6M73.5 376.3v1.6" stroke="#222" stroke-width="0.6"/>
<text transform="translate(76.7 483.3) rotate(-45)" font-size="9.3" text-anchor="end" font-family="Liberation Sans,sans-serif" fill="#222">600</text>
<path d="M91.2 475.8v-1.6M91.2 376.3v1.6" stroke="#222" stroke-width="0.6"/>
<text transform="translate(94.4 483.3) rotate(-45)" font-size="9.3" text-anchor="end" font-family="Liberation Sans,sans-serif" fill="#222">700</text>
<path d="M108.9 475.8v-1.6M108.9 376.3v1.6" stroke="#222" stroke-width="0.6"/>
<text transform="translate(112.1 483.3) rotate(-45)" font-size="9.3" text-anchor="end" font-family="Liberation Sans,sans-serif" fill="#222">800</text>
<path d="M126.6 475.8v-1.6M126.6 376.3v1.6" stroke="#222" stroke-width="0.6"/>
<text transform="translate(129.8 483.3) rotate(-45)" font-size="9.3" text-anchor="end" font-family="Liberation Sans,sans-serif" fill="#222">900</text>
<path d="M144.2 475.8v-1.6M144.2 376.3v1.6" stroke="#222" stroke-width="0.6"/>
<text transform="translate(147.4 483.3) rotate(-45)" font-size="9.3" text-anchor="end" font-family="Liberation Sans,sans-serif" fill="#222">1000</text>
<path d="M161.9 475.8v-1.6M161.9 376.3v1.6" stroke="#222" stroke-width="0.6"/>
<text transform="translate(165.1 483.3) rotate(-45)" font-size="9.3" text-anchor="end" font-family="Liberation Sans,sans-serif" fill="#222">1100</text>
<path d="M38.2 475.8h1.6M161.9 475.8h-1.6" stroke="#222" stroke-width="0.6"/>
<text x="35.2" y="479.1" font-size="9.3" text-anchor="end" font-family="Liberation Sans,sans-serif" fill="#222">0</text>
<path d="M38.2 455.9h1.6M161.9 455.9h-1.6" stroke="#222" stroke-width="0.6"/>
<text x="35.2" y="459.2" font-size="9.3" text-anchor="end" font-family="Liberation Sans,sans-serif" fill="#222">0.2</text>
<path d="M38.2 436.0h1.6M161.9 436.0h-1.6" stroke="#222" stroke-width="0.6"/>
<text x="35.2" y="439.3" font-size="9.3" text-anchor="end" font-family="Liberation Sans,sans-serif" fill="#222">0.4</text>
<path d="M38.2 416.1h1.6M161.9 416.1h-1.6" stroke="#222" stroke-width="0.6"/>
<text x="35.2" y="419.4" font-size="9.3" text-anchor="end" font-family="Liberation Sans,sans-serif" fill="#222">0.6</text>
<path d="M38.2 396.2h1.6M161.9 396.2h-1.6" stroke="#222" stroke-width="0.6"/>
<text x="35.2" y="399.5" font-size="9.3" text-anchor="end" font-family="Liberation Sans,sans-serif" fill="#222">0.8</text>
<path d="M38.2 376.3h1.6M161.9 376.3h-1.6" stroke="#222" stroke-width="0.6"/>
<text x="35.2" y="379.6" font-size="9.3" text-anchor="end" font-family="Liberation Sans,sans-serif" fill="#222">1</text>
<text x="100.1" y="506.5" font-size="9.8" text-anchor="middle" font-family="Liberation Sans,sans-serif" fill="#222">Wavelength(nm)</text>
<text transform="translate(17.5 426.1) rotate(-90)" font-size="9.8" text-anchor="middle" font-family="Liberation Sans,sans-serif" fill="#222">Normalized detected power</text>
<rect x="67.2" y="379.6" width="90.8" height="20.9" fill="#fff" stroke="#222" stroke-width="0.7"/>
<path d="M68.8 385.8H81.5" stroke="#2020c8" stroke-width="1.3"/><path d="M68.8 396.4H81.5" stroke="#e63030" stroke-width="1.3"/>
<text x="82.3" y="388.9" font-size="8.1" text-anchor="start" font-family="Liberation Sans,sans-serif" fill="#111" stroke="#111" stroke-width="0.15">Pixels for visible light</text>
<text x="82.3" y="399.5" font-size="8.1" text-anchor="start" font-family="Liberation Sans,sans-serif" fill="#111" stroke="#111" stroke-width="0.15">Pixels for NIR light</text>
<g clip-path="url(#f1c)"><g filter="url(#f1)"><rect x="208.0" y="359.6" width="141.5" height="137.3" fill="#131313"/><ellipse cx="249.19" cy="402.45" rx="30.11" ry="38.17" fill="url(#gw)" opacity="0.300"/><ellipse cx="232.21" cy="387.45" rx="11.50" ry="14.48" fill="url(#gw)" opacity="0.200" transform="rotate(-25 232.21 387.45)"/><ellipse cx="232.21" cy="416.40" rx="11.50" ry="14.48" fill="url(#gw)" opacity="0.200" transform="rotate(25 232.21 416.40)"/><ellipse cx="269.17" cy="384.81" rx="13.69" ry="9.21" fill="url(#gw)" opacity="0.100" transform="rotate(30 269.17 384.81)"/><ellipse cx="269.17" cy="419.04" rx="13.69" ry="9.21" fill="url(#gw)" opacity="0.100" transform="rotate(-30 269.17 419.04)"/><ellipse cx="291.62" cy="401.14" rx="20.53" ry="31.59" fill="url(#gw)" opacity="0.160"/><ellipse cx="312.97" cy="401.14" rx="23.27" ry="28.96" fill="url(#gw)" opacity="0.130"/><ellipse cx="314.34" cy="387.71" rx="15.06" ry="10.00" fill="url(#gw)" opacity="0.200"/><ellipse cx="323.10" cy="394.03" rx="9.58" ry="6.58" fill="url(#gw)" opacity="0.080" transform="rotate(-35 323.10 394.03)"/><ellipse cx="314.34" cy="414.82" rx="15.06" ry="10.00" fill="url(#gw)" opacity="0.200"/><ellipse cx="323.10" cy="408.51" rx="9.58" ry="6.58" fill="url(#gw)" opacity="0.080" transform="rotate(35 323.10 408.51)"/><ellipse cx="306.12" cy="401.40" rx="12.32" ry="10.00" fill="url(#gw)" opacity="0.200"/><ellipse cx="277.93" cy="401.93" rx="8.76" ry="11.85" fill="url(#gk)" opacity="0.750"/><ellipse cx="291.62" cy="401.14" rx="6.84" ry="5.26" fill="url(#gk)" opacity="0.450"/><ellipse cx="300.65" cy="401.93" rx="6.02" ry="7.90" fill="url(#gk)" opacity="0.500"/><ellipse cx="270.54" cy="378.23" rx="10.95" ry="5.79" fill="url(#gk)" opacity="0.600"/><ellipse cx="270.54" cy="425.09" rx="9.58" ry="5.26" fill="url(#gk)" opacity="0.600"/><ellipse cx="234.40" cy="401.93" rx="3.83" ry="13.16" fill="url(#gk)" opacity="0.500"/><ellipse cx="223.45" cy="401.93" rx="16.43" ry="14.48" fill="url(#gw)" opacity="0.550"/><ellipse cx="291.62" cy="388.76" rx="16.97" ry="9.48" fill="url(#gw)" opacity="0.400"/><ellipse cx="291.62" cy="413.69" rx="16.97" ry="9.48" fill="url(#gw)" opacity="0.400"/><ellipse cx="333.50" cy="401.93" rx="18.07" ry="13.16" fill="url(#gw)" opacity="0.520"/><ellipse cx="277.38" cy="427.72" rx="5.48" ry="5.26" fill="url(#gw)" opacity="0.090"/><ellipse cx="260.68" cy="402.45" rx="16.97" ry="16.85" fill="url(#gw)" opacity="0.660"/><g filter="url(#f1b2_2)"><rect x="240.84" y="386.13" width="16.43" height="32.38" rx="7.67" ry="7.37" fill="#ffffff" opacity="0.86"/></g><ellipse cx="247.82" cy="394.55" rx="5.48" ry="7.90" fill="url(#gw)" opacity="0.600"/><ellipse cx="247.82" cy="408.77" rx="5.48" ry="7.90" fill="url(#gw)" opacity="0.600"/><ellipse cx="247.82" cy="401.93" rx="4.93" ry="13.16" fill="url(#gw)" opacity="0.350"/><g transform="rotate(180 278.75 428.25)"><ellipse cx="249.19" cy="402.45" rx="30.11" ry="38.17" fill="url(#gw)" opacity="0.300"/><ellipse cx="232.21" cy="387.45" rx="11.50" ry="14.48" fill="url(#gw)" opacity="0.200" transform="rotate(-25 232.21 387.45)"/><ellipse cx="232.21" cy="416.40" rx="11.50" ry="14.48" fill="url(#gw)" opacity="0.200" transform="rotate(25 232.21 416.40)"/><ellipse cx="269.17" cy="384.81" rx="13.69" ry="9.21" fill="url(#gw)" opacity="0.100" transform="rotate(30 269.17 384.81)"/><ellipse cx="269.17" cy="419.04" rx="13.69" ry="9.21" fill="url(#gw)" opacity="0.100" transform="rotate(-30 269.17 419.04)"/><ellipse cx="291.62" cy="401.14" rx="20.53" ry="31.59" fill="url(#gw)" opacity="0.160"/><ellipse cx="312.97" cy="401.14" rx="23.27" ry="28.96" fill="url(#gw)" opacity="0.130"/><ellipse cx="314.34" cy="387.71" rx="15.06" ry="10.00" fill="url(#gw)" opacity="0.200"/><ellipse cx="323.10" cy="394.03" rx="9.58" ry="6.58" fill="url(#gw)" opacity="0.080" transform="rotate(-35 323.10 394.03)"/><ellipse cx="314.34" cy="414.82" rx="15.06" ry="10.00" fill="url(#gw)" opacity="0.200"/><ellipse cx="323.10" cy="408.51" rx="9.58" ry="6.58" fill="url(#gw)" opacity="0.080" transform="rotate(35 323.10 408.51)"/><ellipse cx="306.12" cy="401.40" rx="12.32" ry="10.00" fill="url(#gw)" opacity="0.200"/><ellipse cx="277.93" cy="401.93" rx="8.76" ry="11.85" fill="url(#gk)" opacity="0.750"/><ellipse cx="291.62" cy="401.14" rx="6.84" ry="5.26" fill="url(#gk)" opacity="0.450"/><ellipse cx="300.65" cy="401.93" rx="6.02" ry="7.90" fill="url(#gk)" opacity="0.500"/><ellipse cx="270.54" cy="378.23" rx="10.95" ry="5.79" fill="url(#gk)" opacity="0.600"/><ellipse cx="270.54" cy="425.09" rx="9.58" ry="5.26" fill="url(#gk)" opacity="0.600"/><ellipse cx="234.40" cy="401.93" rx="3.83" ry="13.16" fill="url(#gk)" opacity="0.500"/><ellipse cx="223.45" cy="401.93" rx="16.43" ry="14.48" fill="url(#gw)" opacity="0.550"/><ellipse cx="291.62" cy="388.76" rx="16.97" ry="9.48" fill="url(#gw)" opacity="0.400"/><ellipse cx="291.62" cy="413.69" rx="16.97" ry="9.48" fill="url(#gw)" opacity="0.400"/><ellipse cx="333.50" cy="401.93" rx="18.07" ry="13.16" fill="url(#gw)" opacity="0.520"/><ellipse cx="277.38" cy="427.72" rx="5.48" ry="5.26" fill="url(#gw)" opacity="0.090"/><ellipse cx="260.68" cy="402.45" rx="16.97" ry="16.85" fill="url(#gw)" opacity="0.660"/><g filter="url(#f1b2_2)"><rect x="240.84" y="386.13" width="16.43" height="32.38" rx="7.67" ry="7.37" fill="#ffffff" opacity="0.86"/></g><ellipse cx="247.82" cy="394.55" rx="5.48" ry="7.90" fill="url(#gw)" opacity="0.600"/><ellipse cx="247.82" cy="408.77" rx="5.48" ry="7.90" fill="url(#gw)" opacity="0.600"/><ellipse cx="247.82" cy="401.93" rx="4.93" ry="13.16" fill="url(#gw)" opacity="0.350"/></g></g></g>
<text x="276.4" y="366.1" font-size="11" text-anchor="middle" font-family="Liberation Serif,serif" stroke="#222" stroke-width="0.15" fill="#222">λ=650nm</text>
<text x="223.0" y="491.0" font-size="9.5" text-anchor="middle" font-family="Liberation Serif,serif" fill="#222">-2</text>
<text x="250.4" y="491.0" font-size="9.5" text-anchor="middle" font-family="Liberation Serif,serif" fill="#222">-1</text>
<text x="278.8" y="491.0" font-size="9.5" text-anchor="middle" font-family="Liberation Serif,serif" fill="#222">0</text>
<text x="306.1" y="491.0" font-size="9.5" text-anchor="middle" font-family="Liberation Serif,serif" fill="#222">1</text>
<text x="333.5" y="491.0" font-size="9.5" text-anchor="middle" font-family="Liberation Serif,serif" fill="#222">2</text>
<text x="220.5" y="378.6" font-size="9.5" text-anchor="end" font-family="Liberation Serif,serif" fill="#222">2</text>
<text x="220.5" y="404.9" font-size="9.5" text-anchor="end" font-family="Liberation Serif,serif" fill="#222">1</text>
<text x="220.5" y="431.2" font-size="9.5" text-anchor="end" font-family="Liberation Serif,serif" fill="#222">0</text>
<text x="220.5" y="457.6" font-size="9.5" text-anchor="end" font-family="Liberation Serif,serif" fill="#222">-1</text>
<text x="220.5" y="483.9" font-size="9.5" text-anchor="end" font-family="Liberation Serif,serif" fill="#222">-2</text>
<text x="277.4" y="502.5" font-size="12" text-anchor="middle" font-family="Liberation Serif,serif" fill="#222">x(<tspan font-style="italic">μ</tspan>m)</text>
<text transform="translate(207.5 428.2) rotate(-90)" font-size="12" text-anchor="middle" fill="#222" font-family="Liberation Serif,serif">y(<tspan font-style="italic">μ</tspan>m)</text>
<path d="M224.0 375.6V480.9H333.5" fill="none" stroke="#111" stroke-width="0.6"/>
<path d="M224.0 480.9v-1.5M224.0 375.6h1.5" stroke="#111" stroke-width="0.7"/>
<path d="M251.4 480.9v-1.5M224.0 401.9h1.5" stroke="#111" stroke-width="0.7"/>
<path d="M278.8 480.9v-1.5M224.0 428.2h1.5" stroke="#111" stroke-width="0.7"/>
<path d="M306.1 480.9v-1.5M224.0 454.6h1.5" stroke="#111" stroke-width="0.7"/>
<path d="M333.5 480.9v-1.5M224.0 480.9h1.5" stroke="#111" stroke-width="0.7"/>
<g clip-path="url(#f2c)"><g filter="url(#f2)"><rect x="391.5" y="359.4" width="138.4" height="137.0" fill="#171717"/><ellipse cx="496.61" cy="401.12" rx="30.59" ry="30.19" fill="url(#gw)" opacity="0.450"/><ellipse cx="468.28" cy="401.12" rx="25.27" ry="23.62" fill="url(#gw)" opacity="0.340"/><ellipse cx="438.22" cy="401.12" rx="28.73" ry="36.75" fill="url(#gw)" opacity="0.460"/><ellipse cx="406.97" cy="427.90" rx="15.96" ry="13.65" fill="url(#gw)" opacity="0.500"/><ellipse cx="406.97" cy="374.88" rx="18.09" ry="16.27" fill="url(#gw)" opacity="0.560"/><ellipse cx="514.43" cy="374.88" rx="17.02" ry="15.75" fill="url(#gw)" opacity="0.560"/><ellipse cx="452.72" cy="401.65" rx="5.85" ry="11.81" fill="url(#gk)" opacity="0.450"/><ellipse cx="458.84" cy="425.27" rx="11.97" ry="7.35" fill="url(#gk)" opacity="0.600"/><ellipse cx="410.16" cy="401.65" rx="7.98" ry="15.75" fill="url(#gk)" opacity="0.500"/><ellipse cx="452.72" cy="375.40" rx="31.92" ry="6.56" fill="url(#gk)" opacity="0.500"/><ellipse cx="468.41" cy="401.31" rx="14.90" ry="13.65" fill="url(#gw)" opacity="0.680"/><ellipse cx="438.22" cy="401.12" rx="11.70" ry="18.90" fill="url(#gw)" opacity="0.280"/><g filter="url(#f2b2_0)"><rect x="493.02" y="392.86" width="17.42" height="16.93" rx="7.18" ry="7.09" fill="#ffffff" opacity="0.9"/></g><ellipse cx="502.46" cy="401.31" rx="8.51" ry="7.88" fill="url(#gw)" opacity="0.700"/><ellipse cx="485.23" cy="401.65" rx="7.18" ry="18.90" fill="url(#gk)" opacity="0.970"/><g transform="rotate(180 460.70 427.90)"><ellipse cx="496.61" cy="401.12" rx="30.59" ry="30.19" fill="url(#gw)" opacity="0.450"/><ellipse cx="468.28" cy="401.12" rx="25.27" ry="23.62" fill="url(#gw)" opacity="0.340"/><ellipse cx="438.22" cy="401.12" rx="28.73" ry="36.75" fill="url(#gw)" opacity="0.460"/><ellipse cx="406.97" cy="427.90" rx="15.96" ry="13.65" fill="url(#gw)" opacity="0.500"/><ellipse cx="406.97" cy="374.88" rx="18.09" ry="16.27" fill="url(#gw)" opacity="0.560"/><ellipse cx="514.43" cy="374.88" rx="17.02" ry="15.75" fill="url(#gw)" opacity="0.560"/><ellipse cx="452.72" cy="401.65" rx="5.85" ry="11.81" fill="url(#gk)" opacity="0.450"/><ellipse cx="458.84" cy="425.27" rx="11.97" ry="7.35" fill="url(#gk)" opacity="0.600"/><ellipse cx="410.16" cy="401.65" rx="7.98" ry="15.75" fill="url(#gk)" opacity="0.500"/><ellipse cx="452.72" cy="375.40" rx="31.92" ry="6.56" fill="url(#gk)" opacity="0.500"/><ellipse cx="468.41" cy="401.31" rx="14.90" ry="13.65" fill="url(#gw)" opacity="0.680"/><ellipse cx="438.22" cy="401.12" rx="11.70" ry="18.90" fill="url(#gw)" opacity="0.280"/><g filter="url(#f2b2_0)"><rect x="493.02" y="392.86" width="17.42" height="16.93" rx="7.18" ry="7.09" fill="#ffffff" opacity="0.9"/></g><ellipse cx="502.46" cy="401.31" rx="8.51" ry="7.88" fill="url(#gw)" opacity="0.700"/><ellipse cx="485.23" cy="401.65" rx="7.18" ry="18.90" fill="url(#gk)" opacity="0.970"/></g></g></g>
<text x="459.8" y="367.1" font-size="11" text-anchor="middle" font-family="Liberation Serif,serif" stroke="#222" stroke-width="0.15" fill="#222">λ=860nm</text>
<text x="406.5" y="490.0" font-size="9.5" text-anchor="middle" font-family="Liberation Serif,serif" fill="#222">-2</text>
<text x="433.1" y="490.0" font-size="9.5" text-anchor="middle" font-family="Liberation Serif,serif" fill="#222">-1</text>
<text x="460.7" y="490.0" font-size="9.5" text-anchor="middle" font-family="Liberation Serif,serif" fill="#222">0</text>
<text x="487.3" y="490.0" font-size="9.5" text-anchor="middle" font-family="Liberation Serif,serif" fill="#222">1</text>
<text x="513.9" y="490.0" font-size="9.5" text-anchor="middle" font-family="Liberation Serif,serif" fill="#222">2</text>
<text x="404.0" y="378.4" font-size="9.5" text-anchor="end" font-family="Liberation Serif,serif" fill="#222">2</text>
<text x="404.0" y="404.6" font-size="9.5" text-anchor="end" font-family="Liberation Serif,serif" fill="#222">1</text>
<text x="404.0" y="430.9" font-size="9.5" text-anchor="end" font-family="Liberation Serif,serif" fill="#222">0</text>
<text x="404.0" y="457.1" font-size="9.5" text-anchor="end" font-family="Liberation Serif,serif" fill="#222">-1</text>
<text x="404.0" y="483.4" font-size="9.5" text-anchor="end" font-family="Liberation Serif,serif" fill="#222">-2</text>
<text x="460.7" y="501.1" font-size="12" text-anchor="middle" font-family="Liberation Serif,serif" fill="#222">x(<tspan font-style="italic">μ</tspan>m)</text>
<text transform="translate(391.0 427.9) rotate(-90)" font-size="12" text-anchor="middle" fill="#222" font-family="Liberation Serif,serif">y(<tspan font-style="italic">μ</tspan>m)</text>
<path d="M407.5 375.4V480.4H513.9" fill="none" stroke="#111" stroke-width="0.6"/>
<path d="M407.5 480.4v-1.5M407.5 375.4h1.5" stroke="#111" stroke-width="0.7"/>
<path d="M434.1 480.4v-1.5M407.5 401.6h1.5" stroke="#111" stroke-width="0.7"/>
<path d="M460.7 480.4v-1.5M407.5 427.9h1.5" stroke="#111" stroke-width="0.7"/>
<path d="M487.3 480.4v-1.5M407.5 454.1h1.5" stroke="#111" stroke-width="0.7"/>
<path d="M513.9 480.4v-1.5M407.5 480.4h1.5" stroke="#111" stroke-width="0.7"/>
<g clip-path="url(#d1c)"><g filter="url(#d1)"><rect x="205.0" y="186.1" width="135.2" height="137.6" fill="#dddddd"/><g filter="url(#d1b2_5)"><path d="M298.40 196.82L298.40 213.98" fill="none" stroke="#bfbfbf" stroke-width="12.90" stroke-linecap="round" stroke-linejoin="round" opacity="1"/><path d="M298.40 215.30L298.40 228.50L297.63 246.98" fill="none" stroke="#ababab" stroke-width="12.90" stroke-linecap="round" stroke-linejoin="round" opacity="1"/><ellipse cx="219.71" cy="212.66" rx="5.16" ry="9.24" fill="#cccccc" opacity="1"/><ellipse cx="226.16" cy="202.10" rx="7.74" ry="3.96" fill="#cccccc" opacity="1"/></g><g filter="url(#d1b2_0)"><path d="M280.34 198.14L282.92 213.98L280.34 220.58L283.44 228.50L280.34 236.42L281.89 244.34L273.89 254.90" fill="none" stroke="#fcfcfc" stroke-width="10.84" stroke-linecap="round" stroke-linejoin="round" opacity="1"/><ellipse cx="229.26" cy="254.90" rx="7.74" ry="5.28" fill="#ffffff" opacity="1"/><ellipse cx="321.62" cy="204.74" rx="5.68" ry="5.81" fill="#fafafa" opacity="1"/><ellipse cx="320.33" cy="243.02" rx="3.87" ry="7.92" fill="#f7f7f7" opacity="1"/></g><g filter="url(#d1b3_5)"><ellipse cx="258.41" cy="228.50" rx="20.64" ry="27.72" fill="#bdbdbd" opacity="1"/></g><g filter="url(#d1b2_3)"><path d="M230.80 228.50L231.32 221.90L241.12 206.85L242.93 202.10L256.60 202.10L257.64 205.80L273.12 227.44L257.64 250.41L256.60 252.26L242.93 252.26L241.12 249.62L231.32 234.31Z" fill="#2b2b2b" opacity="1"/></g><ellipse cx="251.96" cy="228.50" rx="23.22" ry="25.08" fill="url(#gw)" opacity="0.200"/><ellipse cx="227.45" cy="228.50" rx="10.32" ry="15.84" fill="url(#gk)" opacity="0.400"/><g filter="url(#d1b1_6)"><ellipse cx="307.43" cy="228.50" rx="3.87" ry="14.78" fill="#242424" opacity="1"/></g><g transform="rotate(180 272.60 254.90)"><g filter="url(#d1b2_5)"><path d="M298.40 196.82L298.40 213.98" fill="none" stroke="#bfbfbf" stroke-width="12.90" stroke-linecap="round" stroke-linejoin="round" opacity="1"/><path d="M298.40 215.30L298.40 228.50L297.63 246.98" fill="none" stroke="#ababab" stroke-width="12.90" stroke-linecap="round" stroke-linejoin="round" opacity="1"/><ellipse cx="219.71" cy="212.66" rx="5.16" ry="9.24" fill="#cccccc" opacity="1"/><ellipse cx="226.16" cy="202.10" rx="7.74" ry="3.96" fill="#cccccc" opacity="1"/></g><g filter="url(#d1b2_0)"><path d="M280.34 198.14L282.92 213.98L280.34 220.58L283.44 228.50L280.34 236.42L281.89 244.34L273.89 254.90" fill="none" stroke="#fcfcfc" stroke-width="10.84" stroke-linecap="round" stroke-linejoin="round" opacity="1"/><ellipse cx="229.26" cy="254.90" rx="7.74" ry="5.28" fill="#ffffff" opacity="1"/><ellipse cx="321.62" cy="204.74" rx="5.68" ry="5.81" fill="#fafafa" opacity="1"/><ellipse cx="320.33" cy="243.02" rx="3.87" ry="7.92" fill="#f7f7f7" opacity="1"/></g><g filter="url(#d1b3_5)"><ellipse cx="258.41" cy="228.50" rx="20.64" ry="27.72" fill="#bdbdbd" opacity="1"/></g><g filter="url(#d1b2_3)"><path d="M230.80 228.50L231.32 221.90L241.12 206.85L242.93 202.10L256.60 202.10L257.64 205.80L273.12 227.44L257.64 250.41L256.60 252.26L242.93 252.26L241.12 249.62L231.32 234.31Z" fill="#2b2b2b" opacity="1"/></g><ellipse cx="251.96" cy="228.50" rx="23.22" ry="25.08" fill="url(#gw)" opacity="0.200"/><ellipse cx="227.45" cy="228.50" rx="10.32" ry="15.84" fill="url(#gk)" opacity="0.400"/><g filter="url(#d1b1_6)"><ellipse cx="307.43" cy="228.50" rx="3.87" ry="14.78" fill="#242424" opacity="1"/></g></g></g><g id="d1o"><g clip-path="url(#d1s)"><g mask="url(#d1m)"><g filter="url(#d1b)"><rect x="205.0" y="186.1" width="135.2" height="137.6" fill="#2b2b2b"/><ellipse cx="251.96" cy="228.50" rx="23.22" ry="25.08" fill="url(#gw)" opacity="0.200"/><ellipse cx="227.45" cy="228.50" rx="10.32" ry="15.84" fill="url(#gk)" opacity="0.400"/></g></g></g><path d="M239.06 249.62L224.10 234.31L223.58 228.50L224.10 220.05L238.54 204.74" fill="none" stroke="#fff" stroke-opacity="0.5" stroke-width="0.7"/><path d="M308.46 212.40L310.78 215.30L311.82 220.58L313.11 224.54L313.62 228.50L312.85 233.78L312.07 239.06L310.53 242.49L308.46 244.87L307.69 239.06L307.69 217.94Z" fill="#0014ff"/><path d="M308.46 212.40L310.78 215.30L311.82 220.58L313.11 224.54L313.62 228.50L312.85 233.78L312.07 239.06L310.53 242.49L308.46 244.87" fill="none" stroke="#eef" stroke-opacity="0.6" stroke-width="0.6" stroke-linejoin="round"/><ellipse cx="278.79" cy="211.87" rx="1.35" ry="2.8" transform="rotate(-35 278.79 211.87)" fill="#2c3cc4" stroke="#f4f0f0" stroke-opacity="0.85" stroke-width="0.8"/><ellipse cx="280.08" cy="228.50" rx="1.35" ry="2.8" transform="rotate(0 280.08 228.50)" fill="#2c3cc4" stroke="#f4f0f0" stroke-opacity="0.85" stroke-width="0.8"/><ellipse cx="279.05" cy="244.60" rx="1.35" ry="2.8" transform="rotate(35 279.05 244.60)" fill="#2c3cc4" stroke="#f4f0f0" stroke-opacity="0.85" stroke-width="0.8"/></g><use href="#d1o" transform="rotate(180 272.60 254.90)"/></g>
<text x="273.2" y="192.1" font-size="11" text-anchor="middle" font-family="Liberation Serif,serif" stroke="#222" stroke-width="0.15" fill="#222">λ=650nm</text>
<text x="220.0" y="319.5" font-size="9.5" text-anchor="middle" font-family="Liberation Serif,serif" fill="#222">-2</text>
<text x="245.8" y="319.5" font-size="9.5" text-anchor="middle" font-family="Liberation Serif,serif" fill="#222">-1</text>
<text x="272.6" y="319.5" font-size="9.5" text-anchor="middle" font-family="Liberation Serif,serif" fill="#222">0</text>
<text x="298.4" y="319.5" font-size="9.5" text-anchor="middle" font-family="Liberation Serif,serif" fill="#222">1</text>
<text x="324.2" y="319.5" font-size="9.5" text-anchor="middle" font-family="Liberation Serif,serif" fill="#222">2</text>
<text x="217.5" y="205.1" font-size="9.5" text-anchor="end" font-family="Liberation Serif,serif" fill="#222">2</text>
<text x="217.5" y="231.5" font-size="9.5" text-anchor="end" font-family="Liberation Serif,serif" fill="#222">1</text>
<text x="217.5" y="257.9" font-size="9.5" text-anchor="end" font-family="Liberation Serif,serif" fill="#222">0</text>
<text x="217.5" y="284.3" font-size="9.5" text-anchor="end" font-family="Liberation Serif,serif" fill="#222">-1</text>
<text x="217.5" y="310.7" font-size="9.5" text-anchor="end" font-family="Liberation Serif,serif" fill="#222">-2</text>
<text x="272.6" y="330.4" font-size="12" text-anchor="middle" font-family="Liberation Serif,serif" fill="#222">x(<tspan font-style="italic">μ</tspan>m)</text>
<text transform="translate(206.5 254.9) rotate(-90)" font-size="12" text-anchor="middle" fill="#222" font-family="Liberation Serif,serif">y(<tspan font-style="italic">μ</tspan>m)</text>
<rect x="329.2" y="202.1" width="7.6" height="105.6" fill="url(#cb)"/>
<text x="340.1" y="205.6" font-size="9" text-anchor="start" font-family="Liberation Serif,serif" fill="#222">2<tspan font-style="italic">π</tspan></text>
<text x="340.1" y="231.7" font-size="9" text-anchor="start" font-family="Liberation Serif,serif" fill="#222">3/2<tspan font-style="italic">π</tspan></text>
<text x="340.1" y="258.1" font-size="9" text-anchor="start" font-family="Liberation Serif,serif" fill="#222"><tspan font-style="italic">π</tspan></text>
<text x="340.1" y="284.5" font-size="9" text-anchor="start" font-family="Liberation Serif,serif" fill="#222">1/2<tspan font-style="italic">π</tspan></text>
<text x="340.1" y="311.9" font-size="9" text-anchor="start" font-family="Liberation Serif,serif" fill="#222">0</text>
<g clip-path="url(#d2c)"><g filter="url(#d2)"><rect x="393.2" y="183.6" width="137.7" height="133.7" fill="#e0e0e0"/><g filter="url(#d2b3)"><ellipse cx="406.56" cy="225.03" rx="7.93" ry="21.61" fill="#b8b8b8" opacity="1"/><ellipse cx="517.54" cy="225.03" rx="13.21" ry="15.26" fill="#bdbdbd" opacity="1"/><ellipse cx="435.62" cy="197.06" rx="18.50" ry="5.09" fill="#b2b2b2" opacity="1"/><path d="M501.69 212.31L517.54 200.36" fill="none" stroke="#b8b8b8" stroke-width="5.81" stroke-linecap="round" stroke-linejoin="round" opacity="1"/><path d="M501.69 237.74L517.54 249.69" fill="none" stroke="#b8b8b8" stroke-width="5.81" stroke-linecap="round" stroke-linejoin="round" opacity="1"/></g><g filter="url(#d2b2_4)"><path d="M484.51 194.51L503.01 194.51L499.04 212.31L499.04 237.74L503.01 249.18L493.76 254.26L480.55 250.45L487.15 237.74L487.15 212.31Z" fill="#a3a3a3" opacity="1"/></g><g filter="url(#d2b1_6)"><path d="M495.21 217.40L495.21 234.43" fill="none" stroke="#6e6e6e" stroke-width="6.61" stroke-linecap="round" stroke-linejoin="round" opacity="1"/></g><g filter="url(#d2b3_5)"><ellipse cx="430.34" cy="225.03" rx="24.31" ry="28.48" fill="#adadad" opacity="1"/></g><g filter="url(#d2b2_4)"><path d="M411.58 225.03L427.70 202.78L443.55 202.78L459.80 219.94L459.80 230.11L443.55 248.54L429.02 248.54Z" fill="#4a4a4a" opacity="1"/></g><ellipse cx="419.24" cy="225.03" rx="14.53" ry="10.17" fill="url(#gk)" opacity="0.500"/><ellipse cx="438.27" cy="225.79" rx="21.14" ry="21.61" fill="url(#gw)" opacity="0.140"/><g transform="rotate(180 462.05 250.45)"><g filter="url(#d2b3)"><ellipse cx="406.56" cy="225.03" rx="7.93" ry="21.61" fill="#b8b8b8" opacity="1"/><ellipse cx="517.54" cy="225.03" rx="13.21" ry="15.26" fill="#bdbdbd" opacity="1"/><ellipse cx="435.62" cy="197.06" rx="18.50" ry="5.09" fill="#b2b2b2" opacity="1"/><path d="M501.69 212.31L517.54 200.36" fill="none" stroke="#b8b8b8" stroke-width="5.81" stroke-linecap="round" stroke-linejoin="round" opacity="1"/><path d="M501.69 237.74L517.54 249.69" fill="none" stroke="#b8b8b8" stroke-width="5.81" stroke-linecap="round" stroke-linejoin="round" opacity="1"/></g><g filter="url(#d2b2_4)"><path d="M484.51 194.51L503.01 194.51L499.04 212.31L499.04 237.74L503.01 249.18L493.76 254.26L480.55 250.45L487.15 237.74L487.15 212.31Z" fill="#a3a3a3" opacity="1"/></g><g filter="url(#d2b1_6)"><path d="M495.21 217.40L495.21 234.43" fill="none" stroke="#6e6e6e" stroke-width="6.61" stroke-linecap="round" stroke-linejoin="round" opacity="1"/></g><g filter="url(#d2b3_5)"><ellipse cx="430.34" cy="225.03" rx="24.31" ry="28.48" fill="#adadad" opacity="1"/></g><g filter="url(#d2b2_4)"><path d="M411.58 225.03L427.70 202.78L443.55 202.78L459.80 219.94L459.80 230.11L443.55 248.54L429.02 248.54Z" fill="#4a4a4a" opacity="1"/></g><ellipse cx="419.24" cy="225.03" rx="14.53" ry="10.17" fill="url(#gk)" opacity="0.500"/><ellipse cx="438.27" cy="225.79" rx="21.14" ry="21.61" fill="url(#gw)" opacity="0.140"/></g></g><g id="d2o"><ellipse cx="499.04" cy="216.63" rx="1.1" ry="1.8" fill="#2038d8" stroke="#cfd8ff" stroke-opacity="0.7" stroke-width="0.5"/><ellipse cx="499.04" cy="234.69" rx="1.1" ry="1.8" fill="#2038d8" stroke="#cfd8ff" stroke-opacity="0.7" stroke-width="0.5"/><ellipse cx="411.05" cy="225.03" rx="1.3" ry="2.6" fill="#d01000" opacity="0.8"/></g><use href="#d2o" transform="rotate(180 462.05 250.45)"/></g>
<text x="462.5" y="192.5" font-size="11" text-anchor="middle" font-family="Liberation Serif,serif" stroke="#222" stroke-width="0.15" fill="#222">λ=860nm</text>
<text x="408.2" y="313.1" font-size="9.5" text-anchor="middle" font-family="Liberation Serif,serif" fill="#222">-2</text>
<text x="434.6" y="313.1" font-size="9.5" text-anchor="middle" font-family="Liberation Serif,serif" fill="#222">-1</text>
<text x="462.0" y="313.1" font-size="9.5" text-anchor="middle" font-family="Liberation Serif,serif" fill="#222">0</text>
<text x="488.5" y="313.1" font-size="9.5" text-anchor="middle" font-family="Liberation Serif,serif" fill="#222">1</text>
<text x="514.9" y="313.1" font-size="9.5" text-anchor="middle" font-family="Liberation Serif,serif" fill="#222">2</text>
<text x="405.7" y="202.6" font-size="9.5" text-anchor="end" font-family="Liberation Serif,serif" fill="#222">2</text>
<text x="405.7" y="228.0" font-size="9.5" text-anchor="end" font-family="Liberation Serif,serif" fill="#222">1</text>
<text x="405.7" y="253.4" font-size="9.5" text-anchor="end" font-family="Liberation Serif,serif" fill="#222">0</text>
<text x="405.7" y="278.9" font-size="9.5" text-anchor="end" font-family="Liberation Serif,serif" fill="#222">-1</text>
<text x="405.7" y="304.3" font-size="9.5" text-anchor="end" font-family="Liberation Serif,serif" fill="#222">-2</text>
<text x="464.5" y="325.3" font-size="12" text-anchor="middle" font-family="Liberation Serif,serif" fill="#222">x(<tspan font-style="italic">μ</tspan>m)</text>
<text transform="translate(391.7 252.1) rotate(-90)" font-size="12" text-anchor="middle" fill="#222" font-family="Liberation Serif,serif">y(<tspan font-style="italic">μ</tspan>m)</text>
<rect x="520.4" y="199.6" width="7.6" height="101.7" fill="url(#cb)"/>
<text x="531.3" y="203.1" font-size="9" text-anchor="start" font-family="Liberation Serif,serif" fill="#222">2<tspan font-style="italic">π</tspan></text>
<text x="531.3" y="228.2" font-size="9" text-anchor="start" font-family="Liberation Serif,serif" fill="#222">3/2<tspan font-style="italic">π</tspan></text>
<text x="531.3" y="253.6" font-size="9" text-anchor="start" font-family="Liberation Serif,serif" fill="#222"><tspan font-style="italic">π</tspan></text>
<text x="531.3" y="279.1" font-size="9" text-anchor="start" font-family="Liberation Serif,serif" fill="#222">1/2<tspan font-style="italic">π</tspan></text>
<text x="531.3" y="305.5" font-size="9" text-anchor="start" font-family="Liberation Serif,serif" fill="#222">0</text></svg></body></html>
